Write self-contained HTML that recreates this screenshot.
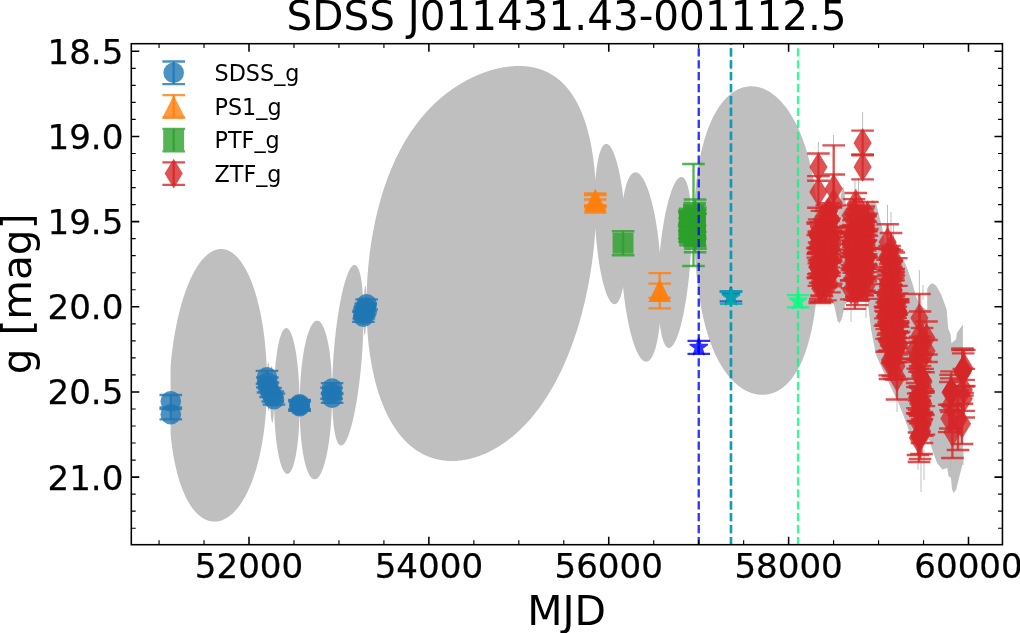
<!DOCTYPE html><html><head><meta charset="utf-8"><title>SDSS J011431.43-001112.5</title><style>html,body{margin:0;padding:0;background:#fff}</style></head><body><svg width="1020" height="633" viewBox="0 0 1020 633" style="display:block;font-family:'DejaVu Sans','Liberation Sans',sans-serif">
<rect width="1020" height="633" fill="#fff"/>
<defs><clipPath id="ax"><rect x="131.3" y="43.7" width="871.1500000000001" height="501.00000000000006"/></clipPath></defs>
<g clip-path="url(#ax)">
<path fill="#bfbfbf" d="M170.6,366.2 L171.1,360.7 L171.6,356.0 L172.1,351.7 L172.6,347.8 L173.1,344.2 L173.6,340.8 L174.1,337.6 L174.6,334.6 L175.1,331.8 L175.6,329.0 L176.1,326.5 L176.6,324.0 L177.1,321.6 L177.6,319.3 L178.1,317.1 L178.6,315.0 L179.1,312.9 L179.6,310.9 L180.1,309.0 L180.6,307.1 L181.1,305.3 L181.6,303.5 L182.1,301.8 L182.6,300.2 L183.1,298.6 L183.6,297.0 L184.1,295.5 L184.6,294.0 L185.1,292.5 L185.6,291.1 L186.1,289.8 L186.6,288.4 L187.1,287.1 L187.6,285.8 L188.1,284.6 L188.6,283.4 L189.1,282.2 L189.6,281.0 L190.1,279.9 L190.6,278.8 L191.1,277.8 L191.6,276.7 L192.1,275.7 L192.6,274.7 L193.1,273.7 L193.6,272.8 L194.1,271.9 L194.6,271.0 L195.1,270.1 L195.6,269.2 L196.1,268.4 L196.6,267.6 L197.1,266.8 L197.6,266.0 L198.1,265.3 L198.6,264.5 L199.1,263.8 L199.6,263.1 L200.1,262.4 L200.6,261.8 L201.1,261.1 L201.6,260.5 L202.1,259.9 L202.6,259.3 L203.1,258.8 L203.6,258.2 L204.1,257.7 L204.6,257.2 L205.1,256.7 L205.6,256.2 L206.1,255.7 L206.6,255.3 L207.1,254.8 L207.6,254.4 L208.1,254.0 L208.6,253.6 L209.1,253.3 L209.6,252.9 L210.1,252.6 L210.6,252.3 L211.1,252.0 L211.6,251.7 L212.1,251.4 L212.6,251.1 L213.1,250.9 L213.6,250.7 L214.1,250.4 L214.6,250.2 L215.1,250.1 L215.6,249.9 L216.1,249.7 L216.6,249.6 L217.1,249.5 L217.6,249.4 L218.1,249.3 L218.6,249.2 L219.1,249.1 L219.6,249.1 L220.1,249.0 L220.6,249.0 L221.1,249.0 L221.6,249.0 L222.1,249.0 L222.6,249.1 L223.1,249.1 L223.6,249.2 L224.1,249.3 L224.6,249.4 L225.1,249.5 L225.6,249.6 L226.1,249.8 L226.6,249.9 L227.1,250.1 L227.6,250.3 L228.1,250.5 L228.6,250.7 L229.1,251.0 L229.6,251.2 L230.1,251.5 L230.6,251.8 L231.1,252.1 L231.6,252.4 L232.1,252.8 L232.6,253.1 L233.1,253.5 L233.6,253.9 L234.1,254.3 L234.6,254.7 L235.1,255.1 L235.6,255.6 L236.1,256.1 L236.6,256.6 L237.1,257.1 L237.6,257.6 L238.1,258.2 L238.6,258.8 L239.1,259.4 L239.6,260.0 L240.1,260.6 L240.6,261.3 L241.1,262.0 L241.6,262.7 L242.1,263.4 L242.6,264.1 L243.1,264.9 L243.6,265.7 L244.1,266.5 L244.6,267.3 L245.1,268.2 L245.6,269.1 L246.1,270.0 L246.6,271.0 L247.1,271.9 L247.6,272.9 L248.1,274.0 L248.6,275.0 L249.1,276.1 L249.6,277.3 L250.1,278.4 L250.6,279.6 L251.1,280.8 L251.6,282.1 L252.1,283.4 L252.6,284.8 L253.1,286.2 L253.6,287.6 L254.1,289.1 L254.6,290.6 L255.1,292.2 L255.6,293.8 L256.1,295.5 L256.6,297.2 L257.1,299.1 L257.6,300.9 L258.1,302.9 L258.6,304.9 L259.1,307.0 L259.6,309.2 L260.1,311.5 L260.6,314.0 L261.1,316.5 L261.6,319.2 L262.1,322.0 L262.6,325.0 L263.1,328.2 L263.6,331.7 L264.1,335.4 L264.6,339.6 L265.1,344.2 L265.6,349.5 L266.1,355.9 L266.6,364.5 L267.0,378.0 L267.1,373.4 L267.6,364.8 L268.1,362.1 L268.6,362.5 L269.1,365.5 L269.6,372.1 L270.0,385.0 L270.1,380.3 L270.6,371.0 L271.1,367.3 L271.6,366.1 L272.1,366.7 L272.6,369.0 L273.1,373.4 L273.6,380.8 L274.0,393.7 L274.1,388.4 L274.6,376.2 L275.1,368.9 L275.6,363.3 L276.1,358.7 L276.6,354.8 L277.1,351.4 L277.6,348.3 L278.1,345.6 L278.6,343.2 L279.1,341.1 L279.6,339.1 L280.1,337.4 L280.6,335.9 L281.1,334.5 L281.6,333.2 L282.1,332.1 L282.6,331.2 L283.1,330.4 L283.6,329.7 L284.1,329.2 L284.6,328.7 L285.1,328.4 L285.6,328.2 L286.1,328.1 L286.6,328.1 L287.1,328.3 L287.6,328.5 L288.1,328.9 L288.6,329.3 L289.1,329.9 L289.6,330.7 L290.1,331.5 L290.6,332.4 L291.1,333.5 L291.6,334.8 L292.1,336.1 L292.6,337.6 L293.1,339.3 L293.6,341.2 L294.1,343.2 L294.6,345.4 L295.1,347.9 L295.6,350.6 L296.1,353.6 L296.6,356.9 L297.1,360.7 L297.6,365.0 L298.1,370.1 L298.6,376.2 L299.1,384.4 L299.6,401.4 L300.1,385.6 L300.6,377.8 L301.1,371.8 L301.6,366.9 L302.1,362.7 L302.6,358.9 L303.1,355.5 L303.6,352.4 L304.1,349.6 L304.6,347.0 L305.1,344.6 L305.6,342.4 L306.1,340.3 L306.6,338.4 L307.1,336.6 L307.6,334.9 L308.1,333.4 L308.6,331.9 L309.1,330.6 L309.6,329.3 L310.1,328.2 L310.6,327.1 L311.1,326.2 L311.6,325.3 L312.1,324.5 L312.6,323.8 L313.1,323.1 L313.6,322.5 L314.1,322.1 L314.6,321.6 L315.1,321.3 L315.6,321.0 L316.1,320.9 L316.6,320.7 L317.1,320.7 L317.6,320.7 L318.1,320.8 L318.6,321.0 L319.1,321.3 L319.6,321.6 L320.1,322.1 L320.6,322.6 L321.1,323.2 L321.6,323.8 L322.1,324.6 L322.6,325.5 L323.1,326.4 L323.6,327.5 L324.1,328.7 L324.6,329.9 L325.1,331.4 L325.6,332.9 L326.1,334.6 L326.6,336.4 L327.1,338.5 L327.6,340.7 L328.1,343.1 L328.6,345.8 L329.1,348.8 L329.6,352.2 L330.1,356.1 L330.6,360.6 L331.1,366.2 L331.6,373.6 L332.1,388.8 L332.6,371.1 L333.1,361.9 L333.6,354.6 L334.1,348.4 L334.6,342.9 L335.1,337.9 L335.6,333.4 L336.1,329.1 L336.6,325.1 L337.1,321.4 L337.6,317.9 L338.1,314.6 L338.6,311.4 L339.1,308.4 L339.6,305.5 L340.1,302.8 L340.6,300.2 L341.1,297.7 L341.6,295.3 L342.1,293.0 L342.6,290.9 L343.1,288.8 L343.6,286.8 L344.1,284.9 L344.6,283.1 L345.1,281.4 L345.6,279.8 L346.1,278.2 L346.6,276.7 L347.1,275.4 L347.6,274.1 L348.1,272.9 L348.6,271.7 L349.1,270.7 L349.6,269.7 L350.1,268.8 L350.6,268.0 L351.1,267.3 L351.6,266.7 L352.1,266.1 L352.6,265.7 L353.1,265.3 L353.6,265.1 L354.1,264.9 L354.6,264.9 L355.1,265.0 L355.6,265.2 L356.1,265.5 L356.6,265.9 L357.1,266.5 L357.6,267.2 L358.1,268.2 L358.6,269.3 L359.1,270.6 L359.6,272.1 L360.1,274.0 L360.6,276.2 L361.1,278.8 L361.6,281.9 L362.1,285.9 L362.6,291.0 L363.1,298.4 L363.5,311.8 L363.6,306.1 L364.1,294.3 L364.6,288.6 L365.1,286.0 L365.6,286.1 L366.1,289.8 L366.5,301.0 L366.6,295.1 L367.1,282.5 L367.6,274.7 L368.1,268.5 L368.6,263.3 L369.1,258.6 L369.6,254.4 L370.1,250.5 L370.6,246.9 L371.1,243.5 L371.6,240.3 L372.1,237.3 L372.6,234.4 L373.1,231.6 L373.6,229.0 L374.1,226.4 L374.6,223.9 L375.1,221.6 L375.6,219.3 L376.1,217.0 L376.6,214.9 L377.1,212.8 L377.6,210.7 L378.1,208.7 L378.6,206.8 L379.1,204.9 L379.6,203.1 L380.1,201.3 L380.6,199.5 L381.1,197.8 L381.6,196.1 L382.1,194.4 L382.6,192.8 L383.1,191.2 L383.6,189.6 L384.1,188.1 L384.6,186.6 L385.1,185.1 L385.6,183.7 L386.1,182.3 L386.6,180.9 L387.1,179.5 L387.6,178.1 L388.1,176.8 L388.6,175.5 L389.1,174.2 L389.6,172.9 L390.1,171.7 L390.6,170.5 L391.1,169.2 L391.6,168.1 L392.1,166.9 L392.6,165.7 L393.1,164.6 L393.6,163.4 L394.1,162.3 L394.6,161.2 L395.1,160.1 L395.6,159.1 L396.1,158.0 L396.6,157.0 L397.1,155.9 L397.6,154.9 L398.1,153.9 L398.6,152.9 L399.1,152.0 L399.6,151.0 L400.1,150.0 L400.6,149.1 L401.1,148.2 L401.6,147.2 L402.1,146.3 L402.6,145.4 L403.1,144.5 L403.6,143.7 L404.1,142.8 L404.6,141.9 L405.1,141.1 L405.6,140.2 L406.1,139.4 L406.6,138.6 L407.1,137.8 L407.6,137.0 L408.1,136.2 L408.6,135.4 L409.1,134.6 L409.6,133.8 L410.1,133.1 L410.6,132.3 L411.1,131.6 L411.6,130.8 L412.1,130.1 L412.6,129.4 L413.1,128.7 L413.6,128.0 L414.1,127.3 L414.6,126.6 L415.1,125.9 L415.6,125.2 L416.1,124.5 L416.6,123.9 L417.1,123.2 L417.6,122.5 L418.1,121.9 L418.6,121.3 L419.1,120.6 L419.6,120.0 L420.1,119.4 L420.6,118.8 L421.1,118.1 L421.6,117.5 L422.1,116.9 L422.6,116.3 L423.1,115.8 L423.6,115.2 L424.1,114.6 L424.6,114.0 L425.1,113.4 L425.6,112.9 L426.1,112.3 L426.6,111.8 L427.1,111.2 L427.6,110.7 L428.1,110.2 L428.6,109.6 L429.1,109.1 L429.6,108.6 L430.1,108.1 L430.6,107.5 L431.1,107.0 L431.6,106.5 L432.1,106.0 L432.6,105.5 L433.1,105.0 L433.6,104.6 L434.1,104.1 L434.6,103.6 L435.1,103.1 L435.6,102.6 L436.1,102.2 L436.6,101.7 L437.1,101.3 L437.6,100.8 L438.1,100.4 L438.6,99.9 L439.1,99.5 L439.6,99.0 L440.1,98.6 L440.6,98.2 L441.1,97.7 L441.6,97.3 L442.1,96.9 L442.6,96.5 L443.1,96.1 L443.6,95.7 L444.1,95.3 L444.6,94.9 L445.1,94.5 L445.6,94.1 L446.1,93.7 L446.6,93.3 L447.1,92.9 L447.6,92.5 L448.1,92.2 L448.6,91.8 L449.1,91.4 L449.6,91.0 L450.1,90.7 L450.6,90.3 L451.1,90.0 L451.6,89.6 L452.1,89.3 L452.6,88.9 L453.1,88.6 L453.6,88.2 L454.1,87.9 L454.6,87.5 L455.1,87.2 L455.6,86.9 L456.1,86.6 L456.6,86.2 L457.1,85.9 L457.6,85.6 L458.1,85.3 L458.6,85.0 L459.1,84.7 L459.6,84.4 L460.1,84.0 L460.6,83.7 L461.1,83.4 L461.6,83.2 L462.1,82.9 L462.6,82.6 L463.1,82.3 L463.6,82.0 L464.1,81.7 L464.6,81.4 L465.1,81.2 L465.6,80.9 L466.1,80.6 L466.6,80.3 L467.1,80.1 L467.6,79.8 L468.1,79.6 L468.6,79.3 L469.1,79.0 L469.6,78.8 L470.1,78.5 L470.6,78.3 L471.1,78.0 L471.6,77.8 L472.1,77.6 L472.6,77.3 L473.1,77.1 L473.6,76.9 L474.1,76.6 L474.6,76.4 L475.1,76.2 L475.6,75.9 L476.1,75.7 L476.6,75.5 L477.1,75.3 L477.6,75.1 L478.1,74.9 L478.6,74.7 L479.1,74.5 L479.6,74.2 L480.1,74.0 L480.6,73.8 L481.1,73.7 L481.6,73.5 L482.1,73.3 L482.6,73.1 L483.1,72.9 L483.6,72.7 L484.1,72.5 L484.6,72.3 L485.1,72.2 L485.6,72.0 L486.1,71.8 L486.6,71.7 L487.1,71.5 L487.6,71.3 L488.1,71.2 L488.6,71.0 L489.1,70.8 L489.6,70.7 L490.1,70.5 L490.6,70.4 L491.1,70.2 L491.6,70.1 L492.1,69.9 L492.6,69.8 L493.1,69.7 L493.6,69.5 L494.1,69.4 L494.6,69.3 L495.1,69.1 L495.6,69.0 L496.1,68.9 L496.6,68.8 L497.1,68.6 L497.6,68.5 L498.1,68.4 L498.6,68.3 L499.1,68.2 L499.6,68.1 L500.1,68.0 L500.6,67.9 L501.1,67.8 L501.6,67.7 L502.1,67.6 L502.6,67.5 L503.1,67.4 L503.6,67.3 L504.1,67.2 L504.6,67.2 L505.1,67.1 L505.6,67.0 L506.1,66.9 L506.6,66.9 L507.1,66.8 L507.6,66.7 L508.1,66.7 L508.6,66.6 L509.1,66.5 L509.6,66.5 L510.1,66.4 L510.6,66.4 L511.1,66.3 L511.6,66.3 L512.1,66.3 L512.6,66.2 L513.1,66.2 L513.6,66.2 L514.1,66.1 L514.6,66.1 L515.1,66.1 L515.6,66.1 L516.1,66.0 L516.6,66.0 L517.1,66.0 L517.6,66.0 L518.1,66.0 L518.6,66.0 L519.1,66.0 L519.6,66.0 L520.1,66.0 L520.6,66.0 L521.1,66.0 L521.6,66.0 L522.1,66.1 L522.6,66.1 L523.1,66.1 L523.6,66.1 L524.1,66.2 L524.6,66.2 L525.1,66.3 L525.6,66.3 L526.1,66.3 L526.6,66.4 L527.1,66.5 L527.6,66.5 L528.1,66.6 L528.6,66.6 L529.1,66.7 L529.6,66.8 L530.1,66.9 L530.6,66.9 L531.1,67.0 L531.6,67.1 L532.1,67.2 L532.6,67.3 L533.1,67.4 L533.6,67.5 L534.1,67.6 L534.6,67.7 L535.1,67.8 L535.6,68.0 L536.1,68.1 L536.6,68.2 L537.1,68.4 L537.6,68.5 L538.1,68.6 L538.6,68.8 L539.1,68.9 L539.6,69.1 L540.1,69.3 L540.6,69.4 L541.1,69.6 L541.6,69.8 L542.1,70.0 L542.6,70.1 L543.1,70.3 L543.6,70.5 L544.1,70.7 L544.6,70.9 L545.1,71.2 L545.6,71.4 L546.1,71.6 L546.6,71.8 L547.1,72.1 L547.6,72.3 L548.1,72.6 L548.6,72.8 L549.1,73.1 L549.6,73.4 L550.1,73.6 L550.6,73.9 L551.1,74.2 L551.6,74.5 L552.1,74.8 L552.6,75.1 L553.1,75.4 L553.6,75.7 L554.1,76.1 L554.6,76.4 L555.1,76.8 L555.6,77.1 L556.1,77.5 L556.6,77.8 L557.1,78.2 L557.6,78.6 L558.1,79.0 L558.6,79.4 L559.1,79.8 L559.6,80.2 L560.1,80.7 L560.6,81.1 L561.1,81.6 L561.6,82.0 L562.1,82.5 L562.6,83.0 L563.1,83.5 L563.6,84.0 L564.1,84.5 L564.6,85.0 L565.1,85.5 L565.6,86.1 L566.1,86.6 L566.6,87.2 L567.1,87.8 L567.6,88.4 L568.1,89.0 L568.6,89.6 L569.1,90.3 L569.6,90.9 L570.1,91.6 L570.6,92.3 L571.1,93.0 L571.6,93.7 L572.1,94.4 L572.6,95.2 L573.1,95.9 L573.6,96.7 L574.1,97.5 L574.6,98.3 L575.1,99.2 L575.6,100.1 L576.1,100.9 L576.6,101.9 L577.1,102.8 L577.6,103.7 L578.1,104.7 L578.6,105.7 L579.1,106.8 L579.6,107.8 L580.1,108.9 L580.6,110.0 L581.1,111.2 L581.6,112.4 L582.1,113.6 L582.6,114.9 L583.1,116.2 L583.6,117.5 L584.1,118.9 L584.6,120.3 L585.1,121.8 L585.6,123.4 L586.1,125.0 L586.6,126.6 L587.1,128.3 L587.6,130.1 L588.1,132.0 L588.6,133.9 L589.1,136.0 L589.6,138.1 L590.1,140.4 L590.6,142.8 L591.1,145.3 L591.6,148.0 L592.1,150.9 L592.6,154.0 L593.1,157.4 L593.6,161.2 L594.1,165.4 L594.6,170.3 L595.1,176.1 L595.4,180.7 L595.6,178.1 L596.1,172.7 L596.6,168.4 L597.1,164.9 L597.6,161.9 L598.1,159.3 L598.6,157.0 L599.1,155.0 L599.6,153.3 L600.1,151.7 L600.6,150.4 L601.1,149.1 L601.6,148.1 L602.1,147.2 L602.6,146.4 L603.1,145.7 L603.6,145.2 L604.1,144.7 L604.6,144.4 L605.1,144.1 L605.6,144.0 L606.1,143.9 L606.6,143.9 L607.1,144.0 L607.6,144.2 L608.1,144.5 L608.6,144.9 L609.1,145.3 L609.6,145.8 L610.1,146.4 L610.6,147.1 L611.1,147.8 L611.6,148.7 L612.1,149.6 L612.6,150.5 L613.1,151.6 L613.6,152.8 L614.1,154.0 L614.6,155.3 L615.1,156.7 L615.6,158.2 L616.1,159.8 L616.6,161.5 L617.1,163.3 L617.6,165.2 L618.1,167.2 L618.6,169.3 L619.1,171.6 L619.6,174.0 L620.1,176.6 L620.6,179.3 L621.1,182.2 L621.6,185.3 L622.1,188.6 L622.6,192.2 L623.1,196.2 L623.3,198.3 L623.6,196.5 L624.1,193.7 L624.6,191.3 L625.1,189.1 L625.6,187.1 L626.1,185.3 L626.6,183.7 L627.1,182.3 L627.6,180.9 L628.1,179.7 L628.6,178.7 L629.1,177.7 L629.6,176.8 L630.1,176.0 L630.6,175.3 L631.1,174.7 L631.6,174.1 L632.1,173.7 L632.6,173.3 L633.1,173.0 L633.6,172.7 L634.1,172.5 L634.6,172.4 L635.1,172.3 L635.6,172.3 L636.1,172.4 L636.6,172.5 L637.1,172.6 L637.6,172.8 L638.1,173.1 L638.6,173.4 L639.1,173.8 L639.6,174.3 L640.1,174.7 L640.6,175.3 L641.1,175.9 L641.6,176.5 L642.1,177.2 L642.6,178.0 L643.1,178.8 L643.6,179.6 L644.1,180.5 L644.6,181.5 L645.1,182.5 L645.6,183.6 L646.1,184.7 L646.6,185.9 L647.1,187.2 L647.6,188.5 L648.1,189.8 L648.6,191.3 L649.1,192.8 L649.6,194.3 L650.1,196.0 L650.6,197.7 L651.1,199.5 L651.6,201.4 L652.1,203.3 L652.6,205.4 L653.1,207.5 L653.6,209.7 L654.1,212.1 L654.6,214.6 L655.1,217.2 L655.6,219.9 L656.1,222.8 L656.6,225.9 L657.1,229.2 L657.6,232.7 L658.1,236.5 L658.6,240.6 L659.1,245.2 L659.6,250.3 L659.7,253.6 L660.1,249.4 L660.6,244.6 L661.1,240.4 L661.6,236.4 L662.1,232.8 L662.6,229.4 L663.1,226.2 L663.6,223.2 L664.1,220.3 L664.6,217.6 L665.1,215.0 L665.6,212.6 L666.1,210.3 L666.6,208.0 L667.1,205.9 L667.6,203.9 L668.1,201.9 L668.6,200.1 L669.1,198.3 L669.6,196.6 L670.1,195.0 L670.6,193.4 L671.1,192.0 L671.6,190.6 L672.1,189.2 L672.6,188.0 L673.1,186.8 L673.6,185.7 L674.1,184.6 L674.6,183.6 L675.1,182.7 L675.6,181.8 L676.1,181.0 L676.6,180.3 L677.1,179.6 L677.6,179.0 L678.1,178.5 L678.6,178.1 L679.1,177.7 L679.6,177.4 L680.1,177.1 L680.6,177.0 L681.1,176.9 L681.6,176.9 L682.1,177.0 L682.6,177.2 L683.1,177.5 L683.6,177.8 L684.1,178.3 L684.6,178.9 L685.1,179.7 L685.6,180.5 L686.1,181.5 L686.6,182.7 L687.1,184.1 L687.6,185.7 L688.1,187.5 L688.6,189.6 L689.1,192.1 L689.6,195.1 L690.1,198.7 L690.6,203.3 L691.1,209.8 L691.5,219.6 L691.6,215.3 L692.1,205.9 L692.6,201.9 L693.1,201.0 L693.6,203.2 L694.1,210.9 L694.2,214.1 L694.6,202.7 L695.1,194.5 L695.6,188.4 L696.1,183.3 L696.6,178.9 L697.1,175.0 L697.6,171.4 L698.1,168.1 L698.6,165.1 L699.1,162.2 L699.6,159.6 L700.1,157.1 L700.6,154.7 L701.1,152.4 L701.6,150.2 L702.1,148.2 L702.6,146.2 L703.1,144.3 L703.6,142.5 L704.1,140.7 L704.6,139.0 L705.1,137.4 L705.6,135.8 L706.1,134.3 L706.6,132.8 L707.1,131.4 L707.6,130.0 L708.1,128.6 L708.6,127.3 L709.1,126.1 L709.6,124.8 L710.1,123.6 L710.6,122.5 L711.1,121.3 L711.6,120.2 L712.1,119.2 L712.6,118.1 L713.1,117.1 L713.6,116.1 L714.1,115.2 L714.6,114.2 L715.1,113.3 L715.6,112.4 L716.1,111.6 L716.6,110.7 L717.1,109.9 L717.6,109.1 L718.1,108.3 L718.6,107.5 L719.1,106.8 L719.6,106.1 L720.1,105.4 L720.6,104.7 L721.1,104.0 L721.6,103.3 L722.1,102.7 L722.6,102.1 L723.1,101.5 L723.6,100.9 L724.1,100.3 L724.6,99.7 L725.1,99.2 L725.6,98.7 L726.1,98.1 L726.6,97.6 L727.1,97.1 L727.6,96.7 L728.1,96.2 L728.6,95.7 L729.1,95.3 L729.6,94.9 L730.1,94.5 L730.6,94.1 L731.1,93.7 L731.6,93.3 L732.1,92.9 L732.6,92.6 L733.1,92.2 L733.6,91.9 L734.1,91.6 L734.6,91.2 L735.1,90.9 L735.6,90.6 L736.1,90.4 L736.6,90.1 L737.1,89.8 L737.6,89.6 L738.1,89.3 L738.6,89.1 L739.1,88.9 L739.6,88.7 L740.1,88.5 L740.6,88.3 L741.1,88.1 L741.6,87.9 L742.1,87.8 L742.6,87.6 L743.1,87.4 L743.6,87.3 L744.1,87.2 L744.6,87.1 L745.1,87.0 L745.6,86.9 L746.1,86.8 L746.6,86.7 L747.1,86.6 L747.6,86.5 L748.1,86.5 L748.6,86.4 L749.1,86.4 L749.6,86.3 L750.1,86.3 L750.6,86.3 L751.1,86.3 L751.6,86.3 L752.1,86.3 L752.6,86.3 L753.1,86.4 L753.6,86.4 L754.1,86.4 L754.6,86.5 L755.1,86.5 L755.6,86.6 L756.1,86.7 L756.6,86.8 L757.1,86.9 L757.6,87.0 L758.1,87.1 L758.6,87.2 L759.1,87.3 L759.6,87.4 L760.1,87.6 L760.6,87.7 L761.1,87.9 L761.6,88.1 L762.1,88.2 L762.6,88.4 L763.1,88.6 L763.6,88.8 L764.1,89.0 L764.6,89.2 L765.1,89.5 L765.6,89.7 L766.1,90.0 L766.6,90.2 L767.1,90.5 L767.6,90.7 L768.1,91.0 L768.6,91.3 L769.1,91.6 L769.6,91.9 L770.1,92.2 L770.6,92.5 L771.1,92.9 L771.6,93.2 L772.1,93.6 L772.6,93.9 L773.1,94.3 L773.6,94.7 L774.1,95.1 L774.6,95.5 L775.1,95.9 L775.6,96.3 L776.1,96.7 L776.6,97.2 L777.1,97.6 L777.6,98.1 L778.1,98.6 L778.6,99.0 L779.1,99.5 L779.6,100.0 L780.1,100.5 L780.6,101.1 L781.1,101.6 L781.6,102.2 L782.1,102.7 L782.6,103.3 L783.1,103.9 L783.6,104.5 L784.1,105.1 L784.6,105.7 L785.1,106.3 L785.6,107.0 L786.1,107.6 L786.6,108.3 L787.1,109.0 L787.6,109.7 L788.1,110.4 L788.6,111.1 L789.1,111.9 L789.6,112.6 L790.1,113.4 L790.6,114.2 L791.1,115.0 L791.6,115.8 L792.1,116.7 L792.6,117.5 L793.1,118.4 L793.6,119.3 L794.1,120.2 L794.6,121.1 L795.1,122.1 L795.6,123.0 L796.1,124.0 L796.6,125.0 L797.1,126.1 L797.6,127.1 L798.1,128.2 L798.6,129.3 L799.1,130.4 L799.6,131.6 L800.1,132.7 L800.6,133.9 L801.1,135.2 L801.6,136.4 L802.1,137.7 L802.6,139.0 L803.1,140.4 L803.6,141.8 L804.1,143.2 L804.6,144.6 L805.1,146.1 L805.6,147.6 L806.1,149.2 L806.6,150.8 L807.1,152.5 L807.6,154.2 L808.1,156.0 L808.6,157.8 L809.1,159.7 L809.6,161.7 L810.1,163.7 L810.6,165.8 L811.1,167.9 L811.6,170.2 L812.1,172.6 L812.6,175.0 L813.1,177.6 L813.6,180.3 L814.1,183.2 L814.6,186.2 L815.1,189.4 L815.6,192.9 L816.1,196.7 L816.6,200.8 L817.1,205.4 L817.6,210.7 L818.1,217.0 L818.6,225.3 L819.0,236.8 L825.0,228.0 L836.0,224.0 L839.5,205.0 L841.5,192.0 L843.0,185.7 L844.5,192.0 L846.5,210.0 L848.0,218.0 L860.0,212.0 L868.0,205.0 L873.0,200.0 L876.4,204.6 L882.0,227.0 L885.0,242.5 L890.0,247.0 L895.0,250.0 L899.9,254.0 L906.0,265.0 L912.2,282.7 L916.3,297.0 L920.0,305.0 L927.2,310.0 L927.2,288.7 L929.5,285.0 L932.4,283.2 L936.0,285.5 L941.1,294.2 L946.6,309.3 L948.2,328.2 L950.6,334.6 L951.4,343.3 L956.1,339.3 L956.9,333.0 L962.5,325.0 L962.9,325.0 L962.9,463.0 L959.0,478.0 L956.0,490.0 L953.5,493.0 L952.0,489.0 L951.0,478.0 L948.5,476.0 L947.2,468.0 L942.4,469.6 L937.0,463.0 L933.0,452.0 L929.0,439.5 L920.0,445.0 L912.0,440.0 L908.0,428.0 L904.0,417.0 L898.4,402.8 L885.0,375.0 L876.0,355.0 L871.0,329.0 L866.0,288.0 L864.0,285.0 L855.0,292.0 L845.0,305.0 L842.0,318.0 L839.5,323.4 L837.0,318.0 L834.0,305.0 L825.0,290.0 L819.0,255.2 L818.6,269.2 L818.1,279.0 L817.6,286.3 L817.1,292.3 L816.6,297.4 L816.1,302.0 L815.6,306.1 L815.1,309.8 L814.6,313.3 L814.1,316.5 L813.6,319.5 L813.1,322.3 L812.6,325.0 L812.1,327.5 L811.6,329.9 L811.1,332.2 L810.6,334.3 L810.1,336.4 L809.6,338.4 L809.1,340.3 L808.6,342.1 L808.1,343.8 L807.6,345.5 L807.1,347.2 L806.6,348.7 L806.1,350.2 L805.6,351.7 L805.1,353.1 L804.6,354.5 L804.1,355.8 L803.6,357.1 L803.1,358.3 L802.6,359.5 L802.1,360.7 L801.6,361.8 L801.1,362.9 L800.6,364.0 L800.1,365.0 L799.6,366.0 L799.1,367.0 L798.6,367.9 L798.1,368.8 L797.6,369.7 L797.1,370.6 L796.6,371.4 L796.1,372.3 L795.6,373.1 L795.1,373.8 L794.6,374.6 L794.1,375.3 L793.6,376.1 L793.1,376.8 L792.6,377.4 L792.1,378.1 L791.6,378.7 L791.1,379.4 L790.6,380.0 L790.1,380.6 L789.6,381.1 L789.1,381.7 L788.6,382.2 L788.1,382.8 L787.6,383.3 L787.1,383.8 L786.6,384.3 L786.1,384.8 L785.6,385.2 L785.1,385.7 L784.6,386.1 L784.1,386.5 L783.6,386.9 L783.1,387.3 L782.6,387.7 L782.1,388.1 L781.6,388.4 L781.1,388.8 L780.6,389.1 L780.1,389.4 L779.6,389.7 L779.1,390.1 L778.6,390.3 L778.1,390.6 L777.6,390.9 L777.1,391.2 L776.6,391.4 L776.1,391.7 L775.6,391.9 L775.1,392.1 L774.6,392.3 L774.1,392.5 L773.6,392.7 L773.1,392.9 L772.6,393.1 L772.1,393.3 L771.6,393.4 L771.1,393.6 L770.6,393.7 L770.1,393.8 L769.6,394.0 L769.1,394.1 L768.6,394.2 L768.1,394.3 L767.6,394.4 L767.1,394.4 L766.6,394.5 L766.1,394.6 L765.6,394.6 L765.1,394.7 L764.6,394.7 L764.1,394.8 L763.6,394.8 L763.1,394.8 L762.6,394.8 L762.1,394.8 L761.6,394.8 L761.1,394.8 L760.6,394.8 L760.1,394.7 L759.6,394.7 L759.1,394.7 L758.6,394.6 L758.1,394.5 L757.6,394.5 L757.1,394.4 L756.6,394.3 L756.1,394.2 L755.6,394.1 L755.1,394.0 L754.6,393.9 L754.1,393.8 L753.6,393.6 L753.1,393.5 L752.6,393.4 L752.1,393.2 L751.6,393.0 L751.1,392.9 L750.6,392.7 L750.1,392.5 L749.6,392.3 L749.1,392.1 L748.6,391.9 L748.1,391.7 L747.6,391.5 L747.1,391.2 L746.6,391.0 L746.1,390.7 L745.6,390.5 L745.1,390.2 L744.6,389.9 L744.1,389.7 L743.6,389.4 L743.1,389.1 L742.6,388.8 L742.1,388.4 L741.6,388.1 L741.1,387.8 L740.6,387.4 L740.1,387.1 L739.6,386.7 L739.1,386.3 L738.6,386.0 L738.1,385.6 L737.6,385.2 L737.1,384.8 L736.6,384.3 L736.1,383.9 L735.6,383.5 L735.1,383.0 L734.6,382.5 L734.1,382.1 L733.6,381.6 L733.1,381.1 L732.6,380.6 L732.1,380.1 L731.6,379.5 L731.1,379.0 L730.6,378.5 L730.1,377.9 L729.6,377.3 L729.1,376.7 L728.6,376.1 L728.1,375.5 L727.6,374.9 L727.1,374.3 L726.6,373.6 L726.1,372.9 L725.6,372.3 L725.1,371.6 L724.6,370.8 L724.1,370.1 L723.6,369.4 L723.1,368.6 L722.6,367.8 L722.1,367.1 L721.6,366.2 L721.1,365.4 L720.6,364.6 L720.1,363.7 L719.6,362.8 L719.1,361.9 L718.6,361.0 L718.1,360.1 L717.6,359.1 L717.1,358.1 L716.6,357.1 L716.1,356.1 L715.6,355.0 L715.1,353.9 L714.6,352.8 L714.1,351.7 L713.6,350.5 L713.1,349.4 L712.6,348.1 L712.1,346.9 L711.6,345.6 L711.1,344.3 L710.6,342.9 L710.1,341.6 L709.6,340.1 L709.1,338.7 L708.6,337.1 L708.1,335.6 L707.6,334.0 L707.1,332.3 L706.6,330.6 L706.1,328.9 L705.6,327.1 L705.1,325.2 L704.6,323.3 L704.1,321.2 L703.6,319.2 L703.1,317.0 L702.6,314.7 L702.1,312.4 L701.6,309.9 L701.1,307.3 L700.6,304.6 L700.1,301.8 L699.6,298.8 L699.1,295.6 L698.6,292.2 L698.1,288.5 L697.6,284.6 L697.1,280.2 L696.6,275.5 L696.1,270.1 L695.6,263.9 L695.1,256.4 L694.6,246.4 L694.2,232.2 L694.1,233.9 L693.6,243.3 L693.1,247.3 L692.6,248.2 L692.1,246.0 L691.6,238.3 L691.5,235.2 L691.1,247.7 L690.6,257.0 L690.1,264.1 L689.6,270.1 L689.1,275.4 L688.6,280.2 L688.1,284.6 L687.6,288.6 L687.1,292.4 L686.6,295.9 L686.1,299.2 L685.6,302.3 L685.1,305.3 L684.6,308.1 L684.1,310.8 L683.6,313.3 L683.1,315.7 L682.6,318.0 L682.1,320.2 L681.6,322.3 L681.1,324.3 L680.6,326.2 L680.1,328.0 L679.6,329.8 L679.1,331.4 L678.6,332.9 L678.1,334.4 L677.6,335.8 L677.1,337.1 L676.6,338.4 L676.1,339.5 L675.6,340.6 L675.1,341.7 L674.6,342.6 L674.1,343.5 L673.6,344.3 L673.1,345.0 L672.6,345.6 L672.1,346.2 L671.6,346.7 L671.1,347.1 L670.6,347.4 L670.1,347.7 L669.6,347.8 L669.1,347.9 L668.6,347.9 L668.1,347.8 L667.6,347.6 L667.1,347.3 L666.6,346.9 L666.1,346.4 L665.6,345.7 L665.1,345.0 L664.6,344.1 L664.1,343.0 L663.6,341.8 L663.1,340.4 L662.6,338.8 L662.1,337.0 L661.6,334.9 L661.1,332.5 L660.6,329.7 L660.1,326.4 L659.7,323.3 L659.6,325.1 L659.1,329.4 L658.6,333.0 L658.1,336.2 L657.6,339.0 L657.1,341.5 L656.6,343.8 L656.1,345.8 L655.6,347.7 L655.1,349.4 L654.6,350.9 L654.1,352.3 L653.6,353.6 L653.1,354.8 L652.6,355.8 L652.1,356.8 L651.6,357.6 L651.1,358.4 L650.6,359.0 L650.1,359.6 L649.6,360.2 L649.1,360.6 L648.6,360.9 L648.1,361.2 L647.6,361.5 L647.1,361.6 L646.6,361.7 L646.1,361.7 L645.6,361.7 L645.1,361.6 L644.6,361.4 L644.1,361.2 L643.6,360.9 L643.1,360.6 L642.6,360.2 L642.1,359.7 L641.6,359.2 L641.1,358.7 L640.6,358.1 L640.1,357.4 L639.6,356.6 L639.1,355.8 L638.6,355.0 L638.1,354.1 L637.6,353.1 L637.1,352.1 L636.6,351.0 L636.1,349.9 L635.6,348.6 L635.1,347.4 L634.6,346.0 L634.1,344.6 L633.6,343.2 L633.1,341.6 L632.6,340.0 L632.1,338.3 L631.6,336.5 L631.1,334.7 L630.6,332.7 L630.1,330.7 L629.6,328.6 L629.1,326.4 L628.6,324.0 L628.1,321.6 L627.6,319.0 L627.1,316.3 L626.6,313.5 L626.1,310.5 L625.6,307.3 L625.1,303.9 L624.6,300.3 L624.1,296.4 L623.6,292.1 L623.3,289.4 L623.1,286.6 L622.6,289.2 L622.1,291.4 L621.6,293.3 L621.1,295.1 L620.6,296.6 L620.1,297.9 L619.6,299.1 L619.1,300.1 L618.6,301.0 L618.1,301.8 L617.6,302.4 L617.1,303.0 L616.6,303.4 L616.1,303.8 L615.6,304.0 L615.1,304.1 L614.6,304.2 L614.1,304.2 L613.6,304.1 L613.1,303.9 L612.6,303.6 L612.1,303.2 L611.6,302.8 L611.1,302.3 L610.6,301.7 L610.1,301.0 L609.6,300.2 L609.1,299.4 L608.6,298.5 L608.1,297.5 L607.6,296.4 L607.1,295.3 L606.6,294.0 L606.1,292.7 L605.6,291.3 L605.1,289.8 L604.6,288.2 L604.1,286.6 L603.6,284.8 L603.1,282.9 L602.6,280.9 L602.1,278.7 L601.6,276.5 L601.1,274.1 L600.6,271.6 L600.1,268.9 L599.6,266.0 L599.1,262.9 L598.6,259.6 L598.1,256.0 L597.6,252.1 L597.1,247.8 L596.6,243.0 L596.1,237.5 L595.6,230.9 L595.4,227.8 L595.1,232.8 L594.6,239.2 L594.1,244.7 L593.6,249.6 L593.1,254.0 L592.6,258.0 L592.1,261.8 L591.6,265.4 L591.1,268.7 L590.6,271.9 L590.1,275.0 L589.6,277.9 L589.1,280.7 L588.6,283.5 L588.1,286.1 L587.6,288.6 L587.1,291.1 L586.6,293.5 L586.1,295.8 L585.6,298.1 L585.1,300.3 L584.6,302.4 L584.1,304.5 L583.6,306.6 L583.1,308.6 L582.6,310.6 L582.1,312.5 L581.6,314.4 L581.1,316.2 L580.6,318.0 L580.1,319.8 L579.6,321.6 L579.1,323.3 L578.6,325.0 L578.1,326.6 L577.6,328.3 L577.1,329.9 L576.6,331.4 L576.1,333.0 L575.6,334.5 L575.1,336.0 L574.6,337.5 L574.1,339.0 L573.6,340.4 L573.1,341.8 L572.6,343.2 L572.1,344.6 L571.6,346.0 L571.1,347.3 L570.6,348.6 L570.1,350.0 L569.6,351.2 L569.1,352.5 L568.6,353.8 L568.1,355.0 L567.6,356.3 L567.1,357.5 L566.6,358.7 L566.1,359.8 L565.6,361.0 L565.1,362.2 L564.6,363.3 L564.1,364.4 L563.6,365.5 L563.1,366.7 L562.6,367.7 L562.1,368.8 L561.6,369.9 L561.1,370.9 L560.6,372.0 L560.1,373.0 L559.6,374.0 L559.1,375.0 L558.6,376.0 L558.1,377.0 L557.6,378.0 L557.1,379.0 L556.6,379.9 L556.1,380.9 L555.6,381.8 L555.1,382.7 L554.6,383.6 L554.1,384.6 L553.6,385.5 L553.1,386.3 L552.6,387.2 L552.1,388.1 L551.6,389.0 L551.1,389.8 L550.6,390.7 L550.1,391.5 L549.6,392.3 L549.1,393.2 L548.6,394.0 L548.1,394.8 L547.6,395.6 L547.1,396.4 L546.6,397.1 L546.1,397.9 L545.6,398.7 L545.1,399.4 L544.6,400.2 L544.1,400.9 L543.6,401.7 L543.1,402.4 L542.6,403.1 L542.1,403.9 L541.6,404.6 L541.1,405.3 L540.6,406.0 L540.1,406.7 L539.6,407.4 L539.1,408.0 L538.6,408.7 L538.1,409.4 L537.6,410.0 L537.1,410.7 L536.6,411.3 L536.1,412.0 L535.6,412.6 L535.1,413.3 L534.6,413.9 L534.1,414.5 L533.6,415.1 L533.1,415.7 L532.6,416.3 L532.1,416.9 L531.6,417.5 L531.1,418.1 L530.6,418.7 L530.1,419.3 L529.6,419.8 L529.1,420.4 L528.6,421.0 L528.1,421.5 L527.6,422.1 L527.1,422.6 L526.6,423.2 L526.1,423.7 L525.6,424.2 L525.1,424.8 L524.6,425.3 L524.1,425.8 L523.6,426.3 L523.1,426.8 L522.6,427.3 L522.1,427.8 L521.6,428.3 L521.1,428.8 L520.6,429.3 L520.1,429.8 L519.6,430.2 L519.1,430.7 L518.6,431.2 L518.1,431.6 L517.6,432.1 L517.1,432.5 L516.6,433.0 L516.1,433.4 L515.6,433.9 L515.1,434.3 L514.6,434.8 L514.1,435.2 L513.6,435.6 L513.1,436.0 L512.6,436.4 L512.1,436.9 L511.6,437.3 L511.1,437.7 L510.6,438.1 L510.1,438.5 L509.6,438.9 L509.1,439.2 L508.6,439.6 L508.1,440.0 L507.6,440.4 L507.1,440.8 L506.6,441.1 L506.1,441.5 L505.6,441.9 L505.1,442.2 L504.6,442.6 L504.1,442.9 L503.6,443.3 L503.1,443.6 L502.6,443.9 L502.1,444.3 L501.6,444.6 L501.1,444.9 L500.6,445.3 L500.1,445.6 L499.6,445.9 L499.1,446.2 L498.6,446.5 L498.1,446.8 L497.6,447.1 L497.1,447.4 L496.6,447.7 L496.1,448.0 L495.6,448.3 L495.1,448.6 L494.6,448.9 L494.1,449.2 L493.6,449.5 L493.1,449.7 L492.6,450.0 L492.1,450.3 L491.6,450.5 L491.1,450.8 L490.6,451.0 L490.1,451.3 L489.6,451.6 L489.1,451.8 L488.6,452.0 L488.1,452.3 L487.6,452.5 L487.1,452.7 L486.6,453.0 L486.1,453.2 L485.6,453.4 L485.1,453.7 L484.6,453.9 L484.1,454.1 L483.6,454.3 L483.1,454.5 L482.6,454.7 L482.1,454.9 L481.6,455.1 L481.1,455.3 L480.6,455.5 L480.1,455.7 L479.6,455.9 L479.1,456.0 L478.6,456.2 L478.1,456.4 L477.6,456.6 L477.1,456.7 L476.6,456.9 L476.1,457.1 L475.6,457.2 L475.1,457.4 L474.6,457.5 L474.1,457.7 L473.6,457.8 L473.1,458.0 L472.6,458.1 L472.1,458.2 L471.6,458.4 L471.1,458.5 L470.6,458.6 L470.1,458.8 L469.6,458.9 L469.1,459.0 L468.6,459.1 L468.1,459.2 L467.6,459.3 L467.1,459.4 L466.6,459.5 L466.1,459.6 L465.6,459.7 L465.1,459.8 L464.6,459.9 L464.1,460.0 L463.6,460.1 L463.1,460.1 L462.6,460.2 L462.1,460.3 L461.6,460.4 L461.1,460.4 L460.6,460.5 L460.1,460.5 L459.6,460.6 L459.1,460.6 L458.6,460.7 L458.1,460.7 L457.6,460.8 L457.1,460.8 L456.6,460.9 L456.1,460.9 L455.6,460.9 L455.1,460.9 L454.6,461.0 L454.1,461.0 L453.6,461.0 L453.1,461.0 L452.6,461.0 L452.1,461.0 L451.6,461.0 L451.1,461.0 L450.6,461.0 L450.1,461.0 L449.6,461.0 L449.1,460.9 L448.6,460.9 L448.1,460.9 L447.6,460.9 L447.1,460.8 L446.6,460.8 L446.1,460.7 L445.6,460.7 L445.1,460.6 L444.6,460.6 L444.1,460.5 L443.6,460.5 L443.1,460.4 L442.6,460.3 L442.1,460.3 L441.6,460.2 L441.1,460.1 L440.6,460.0 L440.1,459.9 L439.6,459.8 L439.1,459.7 L438.6,459.6 L438.1,459.5 L437.6,459.4 L437.1,459.3 L436.6,459.2 L436.1,459.1 L435.6,458.9 L435.1,458.8 L434.6,458.7 L434.1,458.5 L433.6,458.4 L433.1,458.2 L432.6,458.1 L432.1,457.9 L431.6,457.7 L431.1,457.6 L430.6,457.4 L430.1,457.2 L429.6,457.0 L429.1,456.8 L428.6,456.7 L428.1,456.5 L427.6,456.3 L427.1,456.0 L426.6,455.8 L426.1,455.6 L425.6,455.4 L425.1,455.2 L424.6,454.9 L424.1,454.7 L423.6,454.4 L423.1,454.2 L422.6,453.9 L422.1,453.7 L421.6,453.4 L421.1,453.1 L420.6,452.8 L420.1,452.5 L419.6,452.3 L419.1,452.0 L418.6,451.6 L418.1,451.3 L417.6,451.0 L417.1,450.7 L416.6,450.4 L416.1,450.0 L415.6,449.7 L415.1,449.3 L414.6,449.0 L414.1,448.6 L413.6,448.2 L413.1,447.9 L412.6,447.5 L412.1,447.1 L411.6,446.7 L411.1,446.3 L410.6,445.9 L410.1,445.4 L409.6,445.0 L409.1,444.6 L408.6,444.1 L408.1,443.7 L407.6,443.2 L407.1,442.7 L406.6,442.2 L406.1,441.7 L405.6,441.2 L405.1,440.7 L404.6,440.2 L404.1,439.7 L403.6,439.1 L403.1,438.6 L402.6,438.0 L402.1,437.5 L401.6,436.9 L401.1,436.3 L400.6,435.7 L400.1,435.1 L399.6,434.5 L399.1,433.8 L398.6,433.2 L398.1,432.5 L397.6,431.9 L397.1,431.2 L396.6,430.5 L396.1,429.8 L395.6,429.1 L395.1,428.3 L394.6,427.6 L394.1,426.8 L393.6,426.0 L393.1,425.3 L392.6,424.4 L392.1,423.6 L391.6,422.8 L391.1,421.9 L390.6,421.1 L390.1,420.2 L389.6,419.3 L389.1,418.3 L388.6,417.4 L388.1,416.4 L387.6,415.4 L387.1,414.4 L386.6,413.4 L386.1,412.3 L385.6,411.2 L385.1,410.1 L384.6,409.0 L384.1,407.9 L383.6,406.7 L383.1,405.5 L382.6,404.2 L382.1,403.0 L381.6,401.7 L381.1,400.3 L380.6,399.0 L380.1,397.5 L379.6,396.1 L379.1,394.6 L378.6,393.1 L378.1,391.5 L377.6,389.9 L377.1,388.2 L376.6,386.5 L376.1,384.7 L375.6,382.8 L375.1,380.9 L374.6,378.9 L374.1,376.8 L373.6,374.6 L373.1,372.3 L372.6,370.0 L372.1,367.5 L371.6,364.8 L371.1,362.0 L370.6,359.0 L370.1,355.8 L369.6,352.4 L369.1,348.6 L368.6,344.4 L368.1,339.6 L367.6,333.9 L367.1,326.6 L366.6,314.6 L366.5,309.0 L366.1,323.3 L365.6,330.6 L365.1,334.3 L364.6,335.4 L364.1,333.3 L363.6,325.1 L363.5,320.2 L363.1,336.0 L362.6,346.2 L362.1,353.9 L361.6,360.3 L361.1,366.0 L360.6,371.2 L360.1,375.9 L359.6,380.2 L359.1,384.3 L358.6,388.1 L358.1,391.7 L357.6,395.1 L357.1,398.3 L356.6,401.4 L356.1,404.3 L355.6,407.1 L355.1,409.7 L354.6,412.3 L354.1,414.7 L353.6,417.0 L353.1,419.2 L352.6,421.3 L352.1,423.3 L351.6,425.2 L351.1,427.1 L350.6,428.8 L350.1,430.5 L349.6,432.0 L349.1,433.5 L348.6,434.9 L348.1,436.2 L347.6,437.4 L347.1,438.6 L346.6,439.7 L346.1,440.6 L345.6,441.5 L345.1,442.4 L344.6,443.1 L344.1,443.7 L343.6,444.3 L343.1,444.7 L342.6,445.1 L342.1,445.3 L341.6,445.5 L341.1,445.6 L340.6,445.5 L340.1,445.3 L339.6,445.0 L339.1,444.6 L338.6,444.0 L338.1,443.3 L337.6,442.4 L337.1,441.3 L336.6,439.9 L336.1,438.4 L335.6,436.5 L335.1,434.4 L334.6,431.8 L334.1,428.7 L333.6,424.8 L333.1,419.9 L332.6,412.9 L332.1,397.2 L331.6,413.4 L331.1,421.4 L330.6,427.5 L330.1,432.6 L329.6,436.9 L329.1,440.8 L328.6,444.2 L328.1,447.3 L327.6,450.2 L327.1,452.8 L326.6,455.3 L326.1,457.5 L325.6,459.6 L325.1,461.5 L324.6,463.4 L324.1,465.0 L323.6,466.6 L323.1,468.0 L322.6,469.4 L322.1,470.6 L321.6,471.8 L321.1,472.9 L320.6,473.8 L320.1,474.7 L319.6,475.5 L319.1,476.2 L318.6,476.9 L318.1,477.5 L317.6,477.9 L317.1,478.4 L316.6,478.7 L316.1,479.0 L315.6,479.1 L315.1,479.3 L314.6,479.3 L314.1,479.3 L313.6,479.2 L313.1,479.0 L312.6,478.7 L312.1,478.4 L311.6,477.9 L311.1,477.4 L310.6,476.8 L310.1,476.1 L309.6,475.4 L309.1,474.5 L308.6,473.5 L308.1,472.5 L307.6,471.3 L307.1,470.0 L306.6,468.6 L306.1,467.0 L305.6,465.3 L305.1,463.4 L304.6,461.4 L304.1,459.1 L303.6,456.6 L303.1,453.9 L302.6,450.8 L302.1,447.3 L301.6,443.4 L301.1,438.7 L300.6,433.0 L300.1,425.4 L299.6,409.4 L299.1,425.5 L298.6,433.2 L298.1,439.0 L297.6,443.6 L297.1,447.5 L296.6,450.9 L296.1,453.9 L295.6,456.6 L295.1,459.0 L294.6,461.1 L294.1,463.0 L293.6,464.7 L293.1,466.2 L292.6,467.6 L292.1,468.8 L291.6,469.9 L291.1,470.8 L290.6,471.6 L290.1,472.3 L289.6,472.8 L289.1,473.3 L288.6,473.6 L288.1,473.8 L287.6,473.9 L287.1,473.9 L286.6,473.8 L286.1,473.6 L285.6,473.2 L285.1,472.8 L284.6,472.3 L284.1,471.6 L283.6,470.8 L283.1,469.9 L282.6,468.9 L282.1,467.7 L281.6,466.5 L281.1,465.0 L280.6,463.5 L280.1,461.7 L279.6,459.8 L279.1,457.7 L278.6,455.4 L278.1,452.8 L277.6,450.0 L277.1,446.8 L276.6,443.3 L276.1,439.2 L275.6,434.5 L275.1,428.8 L274.6,421.5 L274.1,409.3 L274.0,404.0 L273.6,415.3 L273.1,420.5 L272.6,422.6 L272.1,422.7 L271.6,421.0 L271.1,417.6 L270.6,411.6 L270.1,400.2 L270.0,395.0 L269.6,406.0 L269.1,410.3 L268.6,411.0 L268.1,409.1 L267.6,404.1 L267.1,393.2 L267.0,388.1 L266.6,401.4 L266.1,409.9 L265.6,416.2 L265.1,421.4 L264.6,426.0 L264.1,430.0 L263.6,433.7 L263.1,437.1 L262.6,440.2 L262.1,443.2 L261.6,446.0 L261.1,448.6 L260.6,451.1 L260.1,453.4 L259.6,455.7 L259.1,457.8 L258.6,459.9 L258.1,461.9 L257.6,463.8 L257.1,465.7 L256.6,467.5 L256.1,469.2 L255.6,470.8 L255.1,472.5 L254.6,474.0 L254.1,475.5 L253.6,477.0 L253.1,478.4 L252.6,479.8 L252.1,481.1 L251.6,482.5 L251.1,483.7 L250.6,485.0 L250.1,486.2 L249.6,487.3 L249.1,488.5 L248.6,489.6 L248.1,490.7 L247.6,491.7 L247.1,492.7 L246.6,493.7 L246.1,494.7 L245.6,495.7 L245.1,496.6 L244.6,497.5 L244.1,498.4 L243.6,499.2 L243.1,500.1 L242.6,500.9 L242.1,501.7 L241.6,502.5 L241.1,503.2 L240.6,504.0 L240.1,504.7 L239.6,505.4 L239.1,506.0 L238.6,506.7 L238.1,507.4 L237.6,508.0 L237.1,508.6 L236.6,509.2 L236.1,509.8 L235.6,510.3 L235.1,510.9 L234.6,511.4 L234.1,511.9 L233.6,512.4 L233.1,512.9 L232.6,513.4 L232.1,513.9 L231.6,514.3 L231.1,514.7 L230.6,515.1 L230.1,515.5 L229.6,515.9 L229.1,516.3 L228.6,516.7 L228.1,517.0 L227.6,517.3 L227.1,517.7 L226.6,518.0 L226.1,518.3 L225.6,518.6 L225.1,518.8 L224.6,519.1 L224.1,519.3 L223.6,519.6 L223.1,519.8 L222.6,520.0 L222.1,520.2 L221.6,520.4 L221.1,520.5 L220.6,520.7 L220.1,520.8 L219.6,521.0 L219.1,521.1 L218.6,521.2 L218.1,521.3 L217.6,521.4 L217.1,521.4 L216.6,521.5 L216.1,521.5 L215.6,521.6 L215.1,521.6 L214.6,521.6 L214.1,521.6 L213.6,521.6 L213.1,521.6 L212.6,521.5 L212.1,521.5 L211.6,521.4 L211.1,521.3 L210.6,521.2 L210.1,521.1 L209.6,521.0 L209.1,520.9 L208.6,520.7 L208.1,520.6 L207.6,520.4 L207.1,520.2 L206.6,520.0 L206.1,519.8 L205.6,519.6 L205.1,519.4 L204.6,519.1 L204.1,518.9 L203.6,518.6 L203.1,518.3 L202.6,518.0 L202.1,517.7 L201.6,517.3 L201.1,517.0 L200.6,516.6 L200.1,516.2 L199.6,515.8 L199.1,515.4 L198.6,515.0 L198.1,514.5 L197.6,514.1 L197.1,513.6 L196.6,513.1 L196.1,512.6 L195.6,512.0 L195.1,511.5 L194.6,510.9 L194.1,510.3 L193.6,509.7 L193.1,509.1 L192.6,508.4 L192.1,507.7 L191.6,507.0 L191.1,506.3 L190.6,505.6 L190.1,504.8 L189.6,504.0 L189.1,503.2 L188.6,502.3 L188.1,501.5 L187.6,500.6 L187.1,499.7 L186.6,498.7 L186.1,497.7 L185.6,496.7 L185.1,495.7 L184.6,494.6 L184.1,493.4 L183.6,492.3 L183.1,491.1 L182.6,489.9 L182.1,488.6 L181.6,487.3 L181.1,485.9 L180.6,484.5 L180.1,483.0 L179.6,481.5 L179.1,479.9 L178.6,478.2 L178.1,476.5 L177.6,474.7 L177.1,472.8 L176.6,470.8 L176.1,468.8 L175.6,466.6 L175.1,464.3 L174.6,461.9 L174.1,459.3 L173.6,456.6 L173.1,453.7 L172.6,450.5 L172.1,447.0 L171.6,443.2 L171.1,438.9 L170.6,433.9Z"/>
<path d="M862.6,112V135" stroke="#b8b8b8" stroke-width="0.9"/>
<path d="M818.4,142V155" stroke="#b8b8b8" stroke-width="0.9"/>
<path d="M833.5,135V150" stroke="#b8b8b8" stroke-width="0.9"/>
<path d="M855,180V200" stroke="#b8b8b8" stroke-width="0.9"/>
<path d="M858.5,178V200" stroke="#b8b8b8" stroke-width="0.9"/>
<path d="M887.5,205V228" stroke="#b8b8b8" stroke-width="0.9"/>
<path d="M891,212V236" stroke="#b8b8b8" stroke-width="0.9"/>
<path d="M893.5,225V240" stroke="#b8b8b8" stroke-width="0.9"/>
<path d="M919.4,270V296" stroke="#b8b8b8" stroke-width="0.9"/>
<path d="M923,285V300" stroke="#b8b8b8" stroke-width="0.9"/>
<path d="M921,455V492" stroke="#b8b8b8" stroke-width="0.9"/>
<path d="M924,450V480" stroke="#b8b8b8" stroke-width="0.9"/>
<path d="M918,445V470" stroke="#b8b8b8" stroke-width="0.9"/>
<path d="M951,455V470" stroke="#b8b8b8" stroke-width="0.9"/>
<path d="M963,450V465" stroke="#b8b8b8" stroke-width="0.9"/>
<path d="M897,398V412" stroke="#b8b8b8" stroke-width="0.9"/>
<path d="M838,300V322" stroke="#b8b8b8" stroke-width="0.9"/>
<path d="M851,305V322" stroke="#b8b8b8" stroke-width="0.9"/>
<path d="M866,300V318" stroke="#b8b8b8" stroke-width="0.9"/>
<path d="M812,305V320" stroke="#b8b8b8" stroke-width="0.9"/>
<circle cx="170.8" cy="401.2" r="10.3" fill="#1f77b4" opacity="0.8"/>
<circle cx="170.8" cy="414.2" r="10.3" fill="#1f77b4" opacity="0.8"/>
<circle cx="267.0" cy="377.3" r="10.3" fill="#1f77b4" opacity="0.8"/>
<circle cx="267.4" cy="382.5" r="10.3" fill="#1f77b4" opacity="0.8"/>
<circle cx="268.0" cy="387.5" r="10.3" fill="#1f77b4" opacity="0.8"/>
<circle cx="270.5" cy="392.5" r="10.3" fill="#1f77b4" opacity="0.8"/>
<circle cx="272.8" cy="396.5" r="10.3" fill="#1f77b4" opacity="0.8"/>
<circle cx="274.0" cy="399.1" r="10.3" fill="#1f77b4" opacity="0.8"/>
<circle cx="299.6" cy="404.4" r="10.3" fill="#1f77b4" opacity="0.8"/>
<circle cx="299.6" cy="405.3" r="10.3" fill="#1f77b4" opacity="0.8"/>
<circle cx="299.6" cy="406.2" r="10.3" fill="#1f77b4" opacity="0.8"/>
<circle cx="332.1" cy="388.6" r="10.3" fill="#1f77b4" opacity="0.8"/>
<circle cx="331.6" cy="393.2" r="10.3" fill="#1f77b4" opacity="0.8"/>
<circle cx="332.1" cy="397.8" r="10.3" fill="#1f77b4" opacity="0.8"/>
<circle cx="363.4" cy="316.8" r="10.3" fill="#1f77b4" opacity="0.8"/>
<circle cx="363.8" cy="314.5" r="10.3" fill="#1f77b4" opacity="0.8"/>
<circle cx="364.5" cy="312.0" r="10.3" fill="#1f77b4" opacity="0.8"/>
<circle cx="365.2" cy="310.0" r="10.3" fill="#1f77b4" opacity="0.8"/>
<circle cx="365.8" cy="307.5" r="10.3" fill="#1f77b4" opacity="0.8"/>
<circle cx="366.6" cy="304.3" r="10.3" fill="#1f77b4" opacity="0.8"/>
<path d="M170.8,395.0V407.4" stroke="#1f77b4" stroke-width="2.35" opacity="0.8"/><path d="M159.5,395.0h22.6M159.5,407.4h22.6" stroke="#1f77b4" stroke-width="2.35" opacity="0.8"/>
<path d="M170.8,409.0V419.4" stroke="#1f77b4" stroke-width="2.35" opacity="0.8"/><path d="M159.5,409.0h22.6M159.5,419.4h22.6" stroke="#1f77b4" stroke-width="2.35" opacity="0.8"/>
<path d="M267.0,370.8V383.8" stroke="#1f77b4" stroke-width="2.35" opacity="0.8"/><path d="M255.7,370.8h22.6M255.7,383.8h22.6" stroke="#1f77b4" stroke-width="2.35" opacity="0.8"/>
<path d="M267.4,377.5V387.5" stroke="#1f77b4" stroke-width="2.35" opacity="0.8"/><path d="M256.1,377.5h22.6M256.1,387.5h22.6" stroke="#1f77b4" stroke-width="2.35" opacity="0.8"/>
<path d="M268.0,382.5V392.5" stroke="#1f77b4" stroke-width="2.35" opacity="0.8"/><path d="M256.7,382.5h22.6M256.7,392.5h22.6" stroke="#1f77b4" stroke-width="2.35" opacity="0.8"/>
<path d="M270.5,388.0V397.0" stroke="#1f77b4" stroke-width="2.35" opacity="0.8"/><path d="M259.2,388.0h22.6M259.2,397.0h22.6" stroke="#1f77b4" stroke-width="2.35" opacity="0.8"/>
<path d="M272.8,391.5V401.5" stroke="#1f77b4" stroke-width="2.35" opacity="0.8"/><path d="M261.5,391.5h22.6M261.5,401.5h22.6" stroke="#1f77b4" stroke-width="2.35" opacity="0.8"/>
<path d="M274.0,393.6V404.6" stroke="#1f77b4" stroke-width="2.35" opacity="0.8"/><path d="M262.7,393.6h22.6M262.7,404.6h22.6" stroke="#1f77b4" stroke-width="2.35" opacity="0.8"/>
<path d="M299.6,399.9V408.9" stroke="#1f77b4" stroke-width="2.35" opacity="0.8"/><path d="M288.3,399.9h22.6M288.3,408.9h22.6" stroke="#1f77b4" stroke-width="2.35" opacity="0.8"/>
<path d="M299.6,400.3V410.3" stroke="#1f77b4" stroke-width="2.35" opacity="0.8"/><path d="M288.3,400.3h22.6M288.3,410.3h22.6" stroke="#1f77b4" stroke-width="2.35" opacity="0.8"/>
<path d="M299.6,401.7V410.7" stroke="#1f77b4" stroke-width="2.35" opacity="0.8"/><path d="M288.3,401.7h22.6M288.3,410.7h22.6" stroke="#1f77b4" stroke-width="2.35" opacity="0.8"/>
<path d="M332.1,383.1V394.1" stroke="#1f77b4" stroke-width="2.35" opacity="0.8"/><path d="M320.8,383.1h22.6M320.8,394.1h22.6" stroke="#1f77b4" stroke-width="2.35" opacity="0.8"/>
<path d="M331.6,387.7V398.7" stroke="#1f77b4" stroke-width="2.35" opacity="0.8"/><path d="M320.3,387.7h22.6M320.3,398.7h22.6" stroke="#1f77b4" stroke-width="2.35" opacity="0.8"/>
<path d="M332.1,392.8V402.8" stroke="#1f77b4" stroke-width="2.35" opacity="0.8"/><path d="M320.8,392.8h22.6M320.8,402.8h22.6" stroke="#1f77b4" stroke-width="2.35" opacity="0.8"/>
<path d="M363.4,311.8V321.8" stroke="#1f77b4" stroke-width="2.35" opacity="0.8"/><path d="M352.1,311.8h22.6M352.1,321.8h22.6" stroke="#1f77b4" stroke-width="2.35" opacity="0.8"/>
<path d="M363.8,310.5V318.5" stroke="#1f77b4" stroke-width="2.35" opacity="0.8"/><path d="M352.5,310.5h22.6M352.5,318.5h22.6" stroke="#1f77b4" stroke-width="2.35" opacity="0.8"/>
<path d="M364.5,308.0V316.0" stroke="#1f77b4" stroke-width="2.35" opacity="0.8"/><path d="M353.2,308.0h22.6M353.2,316.0h22.6" stroke="#1f77b4" stroke-width="2.35" opacity="0.8"/>
<path d="M365.2,306.0V314.0" stroke="#1f77b4" stroke-width="2.35" opacity="0.8"/><path d="M353.9,306.0h22.6M353.9,314.0h22.6" stroke="#1f77b4" stroke-width="2.35" opacity="0.8"/>
<path d="M365.8,303.5V311.5" stroke="#1f77b4" stroke-width="2.35" opacity="0.8"/><path d="M354.5,303.5h22.6M354.5,311.5h22.6" stroke="#1f77b4" stroke-width="2.35" opacity="0.8"/>
<path d="M366.6,299.3V309.3" stroke="#1f77b4" stroke-width="2.35" opacity="0.8"/><path d="M355.3,299.3h22.6M355.3,309.3h22.6" stroke="#1f77b4" stroke-width="2.35" opacity="0.8"/>
<path d="M595.3,188.5L584.1,210.9H606.5Z" fill="#ff7f0e" opacity="0.8"/>
<path d="M595.3,191.3L584.1,213.7H606.5Z" fill="#ff7f0e" opacity="0.8"/>
<path d="M595.3,190.0L584.1,212.4H606.5Z" fill="#ff7f0e" opacity="0.8"/>
<path d="M659.7,279.5L648.5,301.9H670.9Z" fill="#ff7f0e" opacity="0.8"/>
<path d="M659.7,279.5L648.5,301.9H670.9Z" fill="#ff7f0e" opacity="0.8"/>
<path d="M595.3,193.5V205.9" stroke="#ff7f0e" stroke-width="2.35" opacity="0.8"/><path d="M584.0,193.5h22.6M584.0,205.9h22.6" stroke="#ff7f0e" stroke-width="2.35" opacity="0.8"/>
<path d="M595.3,199.5V205.5" stroke="#ff7f0e" stroke-width="2.35" opacity="0.8"/><path d="M584.0,199.5h22.6M584.0,205.5h22.6" stroke="#ff7f0e" stroke-width="2.35" opacity="0.8"/>
<path d="M595.3,195.0V207.4" stroke="#ff7f0e" stroke-width="2.35" opacity="0.8"/><path d="M584.0,195.0h22.6M584.0,207.4h22.6" stroke="#ff7f0e" stroke-width="2.35" opacity="0.8"/>
<path d="M659.7,273.1V308.3" stroke="#ff7f0e" stroke-width="2.35" opacity="0.8"/><path d="M648.4,273.1h22.6M648.4,308.3h22.6" stroke="#ff7f0e" stroke-width="2.35" opacity="0.8"/>
<path d="M659.7,283.6V297.8" stroke="#ff7f0e" stroke-width="2.35" opacity="0.8"/><path d="M648.4,283.6h22.6M648.4,297.8h22.6" stroke="#ff7f0e" stroke-width="2.35" opacity="0.8"/>
<rect x="612.6" y="232.8" width="20.9" height="20.9" fill="#2ca02c" opacity="0.8"/>
<rect x="683.0" y="204.6" width="20.9" height="20.9" fill="#2ca02c" opacity="0.8"/>
<rect x="684.6" y="207.6" width="20.9" height="20.9" fill="#2ca02c" opacity="0.8"/>
<rect x="684.8" y="209.2" width="20.9" height="20.9" fill="#2ca02c" opacity="0.8"/>
<rect x="684.3" y="210.8" width="20.9" height="20.9" fill="#2ca02c" opacity="0.8"/>
<rect x="684.0" y="212.5" width="20.9" height="20.9" fill="#2ca02c" opacity="0.8"/>
<rect x="684.8" y="214.1" width="20.9" height="20.9" fill="#2ca02c" opacity="0.8"/>
<rect x="684.3" y="215.8" width="20.9" height="20.9" fill="#2ca02c" opacity="0.8"/>
<rect x="684.2" y="217.4" width="20.9" height="20.9" fill="#2ca02c" opacity="0.8"/>
<rect x="684.5" y="219.0" width="20.9" height="20.9" fill="#2ca02c" opacity="0.8"/>
<rect x="685.0" y="220.7" width="20.9" height="20.9" fill="#2ca02c" opacity="0.8"/>
<rect x="684.6" y="222.3" width="20.9" height="20.9" fill="#2ca02c" opacity="0.8"/>
<rect x="684.2" y="224.0" width="20.9" height="20.9" fill="#2ca02c" opacity="0.8"/>
<rect x="684.6" y="225.6" width="20.9" height="20.9" fill="#2ca02c" opacity="0.8"/>
<rect x="678.8" y="207.6" width="20.9" height="20.9" fill="#2ca02c" opacity="0.8"/>
<rect x="679.0" y="211.2" width="20.9" height="20.9" fill="#2ca02c" opacity="0.8"/>
<rect x="679.1" y="214.8" width="20.9" height="20.9" fill="#2ca02c" opacity="0.8"/>
<rect x="679.0" y="218.4" width="20.9" height="20.9" fill="#2ca02c" opacity="0.8"/>
<rect x="678.8" y="222.0" width="20.9" height="20.9" fill="#2ca02c" opacity="0.8"/>
<rect x="679.2" y="225.6" width="20.9" height="20.9" fill="#2ca02c" opacity="0.8"/>
<path d="M623.0,231.2V255.2" stroke="#2ca02c" stroke-width="2.35" opacity="0.8"/><path d="M611.8,231.2h22.6M611.8,255.2h22.6" stroke="#2ca02c" stroke-width="2.35" opacity="0.8"/>
<path d="M693.5,164.0V266.0" stroke="#2ca02c" stroke-width="2.35" opacity="0.8"/><path d="M682.2,164.0h22.6M682.2,266.0h22.6" stroke="#2ca02c" stroke-width="2.35" opacity="0.8"/>
<path d="M695.1,199.5V236.5" stroke="#2ca02c" stroke-width="2.35" opacity="0.8"/><path d="M683.8,199.5h22.6M683.8,236.5h22.6" stroke="#2ca02c" stroke-width="2.35" opacity="0.8"/>
<path d="M695.3,207.5V231.8" stroke="#2ca02c" stroke-width="2.35" opacity="0.8"/><path d="M684.0,207.5h22.6M684.0,231.8h22.6" stroke="#2ca02c" stroke-width="2.35" opacity="0.8"/>
<path d="M694.7,203.0V239.6" stroke="#2ca02c" stroke-width="2.35" opacity="0.8"/><path d="M683.4,203.0h22.6M683.4,239.6h22.6" stroke="#2ca02c" stroke-width="2.35" opacity="0.8"/>
<path d="M694.4,205.1V240.7" stroke="#2ca02c" stroke-width="2.35" opacity="0.8"/><path d="M683.1,205.1h22.6M683.1,240.7h22.6" stroke="#2ca02c" stroke-width="2.35" opacity="0.8"/>
<path d="M695.3,210.1V239.0" stroke="#2ca02c" stroke-width="2.35" opacity="0.8"/><path d="M684.0,210.1h22.6M684.0,239.0h22.6" stroke="#2ca02c" stroke-width="2.35" opacity="0.8"/>
<path d="M694.7,213.6V238.8" stroke="#2ca02c" stroke-width="2.35" opacity="0.8"/><path d="M683.4,213.6h22.6M683.4,238.8h22.6" stroke="#2ca02c" stroke-width="2.35" opacity="0.8"/>
<path d="M694.7,213.6V242.1" stroke="#2ca02c" stroke-width="2.35" opacity="0.8"/><path d="M683.4,213.6h22.6M683.4,242.1h22.6" stroke="#2ca02c" stroke-width="2.35" opacity="0.8"/>
<path d="M695.0,214.2V244.7" stroke="#2ca02c" stroke-width="2.35" opacity="0.8"/><path d="M683.7,214.2h22.6M683.7,244.7h22.6" stroke="#2ca02c" stroke-width="2.35" opacity="0.8"/>
<path d="M695.5,213.6V248.7" stroke="#2ca02c" stroke-width="2.35" opacity="0.8"/><path d="M684.2,213.6h22.6M684.2,248.7h22.6" stroke="#2ca02c" stroke-width="2.35" opacity="0.8"/>
<path d="M695.1,213.4V252.2" stroke="#2ca02c" stroke-width="2.35" opacity="0.8"/><path d="M683.8,213.4h22.6M683.8,252.2h22.6" stroke="#2ca02c" stroke-width="2.35" opacity="0.8"/>
<path d="M694.6,222.9V245.9" stroke="#2ca02c" stroke-width="2.35" opacity="0.8"/><path d="M683.3,222.9h22.6M683.3,245.9h22.6" stroke="#2ca02c" stroke-width="2.35" opacity="0.8"/>
<path d="M695.1,225.6V246.5" stroke="#2ca02c" stroke-width="2.35" opacity="0.8"/><path d="M683.8,225.6h22.6M683.8,246.5h22.6" stroke="#2ca02c" stroke-width="2.35" opacity="0.8"/>
<path d="M689.2,210.9V225.1" stroke="#2ca02c" stroke-width="2.35" opacity="0.8"/><path d="M677.9,210.9h22.6M677.9,225.1h22.6" stroke="#2ca02c" stroke-width="2.35" opacity="0.8"/>
<path d="M689.5,212.9V230.3" stroke="#2ca02c" stroke-width="2.35" opacity="0.8"/><path d="M678.2,212.9h22.6M678.2,230.3h22.6" stroke="#2ca02c" stroke-width="2.35" opacity="0.8"/>
<path d="M689.6,218.1V232.3" stroke="#2ca02c" stroke-width="2.35" opacity="0.8"/><path d="M678.3,218.1h22.6M678.3,232.3h22.6" stroke="#2ca02c" stroke-width="2.35" opacity="0.8"/>
<path d="M689.5,222.8V234.8" stroke="#2ca02c" stroke-width="2.35" opacity="0.8"/><path d="M678.2,222.8h22.6M678.2,234.8h22.6" stroke="#2ca02c" stroke-width="2.35" opacity="0.8"/>
<path d="M689.2,226.6V238.2" stroke="#2ca02c" stroke-width="2.35" opacity="0.8"/><path d="M677.9,226.6h22.6M677.9,238.2h22.6" stroke="#2ca02c" stroke-width="2.35" opacity="0.8"/>
<path d="M689.6,230.2V241.8" stroke="#2ca02c" stroke-width="2.35" opacity="0.8"/><path d="M678.3,230.2h22.6M678.3,241.8h22.6" stroke="#2ca02c" stroke-width="2.35" opacity="0.8"/>
<path d="M818.4,152.2L827.5,167.1L818.4,182.0L809.3,167.1Z" fill="#d62728" opacity="0.8"/>
<path d="M818.4,177.0L827.5,191.9L818.4,206.8L809.3,191.9Z" fill="#d62728" opacity="0.8"/>
<path d="M833.7,173.8L842.8,188.7L833.7,203.6L824.6,188.7Z" fill="#d62728" opacity="0.8"/>
<path d="M833.7,188.1L842.8,203.0L833.7,217.9L824.6,203.0Z" fill="#d62728" opacity="0.8"/>
<path d="M862.6,128.0L871.7,142.9L862.6,157.8L853.5,142.9Z" fill="#d62728" opacity="0.8"/>
<path d="M862.6,152.0L871.7,166.9L862.6,181.8L853.5,166.9Z" fill="#d62728" opacity="0.8"/>
<path d="M855.8,188.8L864.9,203.7L855.8,218.6L846.7,203.7Z" fill="#d62728" opacity="0.8"/>
<path d="M887.6,227.1L896.7,242.0L887.6,256.9L878.5,242.0Z" fill="#d62728" opacity="0.8"/>
<path d="M891.0,235.1L900.1,250.0L891.0,264.9L881.9,250.0Z" fill="#d62728" opacity="0.8"/>
<path d="M919.4,303.1L928.5,318.0L919.4,332.9L910.3,318.0Z" fill="#d62728" opacity="0.8"/>
<path d="M926.5,323.1L935.6,338.0L926.5,352.9L917.4,338.0Z" fill="#d62728" opacity="0.8"/>
<path d="M920.0,320.1L929.1,335.0L920.0,349.9L910.9,335.0Z" fill="#d62728" opacity="0.8"/>
<path d="M817.6,220.5L826.7,235.4L817.6,250.3L808.5,235.4Z" fill="#d62728" opacity="0.8"/>
<path d="M821.2,224.5L830.3,239.4L821.2,254.3L812.1,239.4Z" fill="#d62728" opacity="0.8"/>
<path d="M829.4,236.3L838.5,251.2L829.4,266.1L820.3,251.2Z" fill="#d62728" opacity="0.8"/>
<path d="M818.8,259.7L827.9,274.6L818.8,289.5L809.7,274.6Z" fill="#d62728" opacity="0.8"/>
<path d="M829.7,237.3L838.8,252.2L829.7,267.1L820.6,252.2Z" fill="#d62728" opacity="0.8"/>
<path d="M818.3,248.9L827.4,263.8L818.3,278.7L809.2,263.8Z" fill="#d62728" opacity="0.8"/>
<path d="M819.6,245.5L828.7,260.4L819.6,275.3L810.5,260.4Z" fill="#d62728" opacity="0.8"/>
<path d="M831.2,233.9L840.3,248.8L831.2,263.7L822.1,248.8Z" fill="#d62728" opacity="0.8"/>
<path d="M826.4,222.9L835.5,237.8L826.4,252.7L817.3,237.8Z" fill="#d62728" opacity="0.8"/>
<path d="M823.7,237.4L832.8,252.3L823.7,267.2L814.6,252.3Z" fill="#d62728" opacity="0.8"/>
<path d="M818.9,231.5L828.0,246.4L818.9,261.3L809.8,246.4Z" fill="#d62728" opacity="0.8"/>
<path d="M826.9,211.2L836.0,226.1L826.9,241.0L817.8,226.1Z" fill="#d62728" opacity="0.8"/>
<path d="M826.8,199.0L835.9,213.9L826.8,228.8L817.7,213.9Z" fill="#d62728" opacity="0.8"/>
<path d="M830.7,257.8L839.8,272.7L830.7,287.6L821.6,272.7Z" fill="#d62728" opacity="0.8"/>
<path d="M819.5,228.4L828.6,243.3L819.5,258.2L810.4,243.3Z" fill="#d62728" opacity="0.8"/>
<path d="M825.2,227.4L834.3,242.3L825.2,257.2L816.1,242.3Z" fill="#d62728" opacity="0.8"/>
<path d="M826.5,232.9L835.6,247.8L826.5,262.7L817.4,247.8Z" fill="#d62728" opacity="0.8"/>
<path d="M823.3,234.9L832.4,249.8L823.3,264.7L814.2,249.8Z" fill="#d62728" opacity="0.8"/>
<path d="M829.8,246.9L838.9,261.8L829.8,276.7L820.7,261.8Z" fill="#d62728" opacity="0.8"/>
<path d="M822.0,228.9L831.1,243.8L822.0,258.7L812.9,243.8Z" fill="#d62728" opacity="0.8"/>
<path d="M822.7,245.7L831.8,260.6L822.7,275.5L813.6,260.6Z" fill="#d62728" opacity="0.8"/>
<path d="M831.0,204.6L840.1,219.5L831.0,234.4L821.9,219.5Z" fill="#d62728" opacity="0.8"/>
<path d="M824.8,218.8L833.9,233.7L824.8,248.6L815.7,233.7Z" fill="#d62728" opacity="0.8"/>
<path d="M825.8,220.0L834.9,234.9L825.8,249.8L816.7,234.9Z" fill="#d62728" opacity="0.8"/>
<path d="M824.8,244.0L833.9,258.9L824.8,273.8L815.7,258.9Z" fill="#d62728" opacity="0.8"/>
<path d="M819.6,247.8L828.7,262.7L819.6,277.6L810.5,262.7Z" fill="#d62728" opacity="0.8"/>
<path d="M828.0,233.7L837.1,248.6L828.0,263.5L818.9,248.6Z" fill="#d62728" opacity="0.8"/>
<path d="M823.4,239.8L832.5,254.7L823.4,269.6L814.3,254.7Z" fill="#d62728" opacity="0.8"/>
<path d="M826.3,238.6L835.4,253.5L826.3,268.4L817.2,253.5Z" fill="#d62728" opacity="0.8"/>
<path d="M827.7,233.0L836.8,247.9L827.7,262.8L818.6,247.9Z" fill="#d62728" opacity="0.8"/>
<path d="M822.6,241.7L831.7,256.6L822.6,271.5L813.5,256.6Z" fill="#d62728" opacity="0.8"/>
<path d="M830.8,203.5L839.9,218.4L830.8,233.3L821.7,218.4Z" fill="#d62728" opacity="0.8"/>
<path d="M821.3,249.2L830.4,264.1L821.3,279.0L812.2,264.1Z" fill="#d62728" opacity="0.8"/>
<path d="M831.2,257.7L840.3,272.6L831.2,287.5L822.1,272.6Z" fill="#d62728" opacity="0.8"/>
<path d="M830.1,230.1L839.2,245.0L830.1,259.9L821.0,245.0Z" fill="#d62728" opacity="0.8"/>
<path d="M823.5,255.0L832.6,269.9L823.5,284.8L814.4,269.9Z" fill="#d62728" opacity="0.8"/>
<path d="M830.4,220.7L839.5,235.6L830.4,250.5L821.3,235.6Z" fill="#d62728" opacity="0.8"/>
<path d="M824.8,257.8L833.9,272.7L824.8,287.6L815.7,272.7Z" fill="#d62728" opacity="0.8"/>
<path d="M828.8,235.3L837.9,250.2L828.8,265.1L819.7,250.2Z" fill="#d62728" opacity="0.8"/>
<path d="M826.3,225.0L835.4,239.9L826.3,254.8L817.2,239.9Z" fill="#d62728" opacity="0.8"/>
<path d="M823.1,228.3L832.2,243.2L823.1,258.1L814.0,243.2Z" fill="#d62728" opacity="0.8"/>
<path d="M820.5,220.5L829.6,235.4L820.5,250.3L811.4,235.4Z" fill="#d62728" opacity="0.8"/>
<path d="M819.1,216.0L828.2,230.9L819.1,245.8L810.0,230.9Z" fill="#d62728" opacity="0.8"/>
<path d="M825.8,260.6L834.9,275.5L825.8,290.4L816.7,275.5Z" fill="#d62728" opacity="0.8"/>
<path d="M831.0,223.7L840.1,238.6L831.0,253.5L821.9,238.6Z" fill="#d62728" opacity="0.8"/>
<path d="M826.4,234.7L835.5,249.6L826.4,264.5L817.3,249.6Z" fill="#d62728" opacity="0.8"/>
<path d="M823.3,243.3L832.4,258.2L823.3,273.1L814.2,258.2Z" fill="#d62728" opacity="0.8"/>
<path d="M827.7,215.0L836.8,229.9L827.7,244.8L818.6,229.9Z" fill="#d62728" opacity="0.8"/>
<path d="M828.7,225.9L837.8,240.8L828.7,255.7L819.6,240.8Z" fill="#d62728" opacity="0.8"/>
<path d="M830.3,227.1L839.4,242.0L830.3,256.9L821.2,242.0Z" fill="#d62728" opacity="0.8"/>
<path d="M817.8,229.6L826.9,244.5L817.8,259.4L808.7,244.5Z" fill="#d62728" opacity="0.8"/>
<path d="M820.1,256.4L829.2,271.3L820.1,286.2L811.0,271.3Z" fill="#d62728" opacity="0.8"/>
<path d="M825.8,224.9L834.9,239.8L825.8,254.7L816.7,239.8Z" fill="#d62728" opacity="0.8"/>
<path d="M817.8,252.6L826.9,267.5L817.8,282.4L808.7,267.5Z" fill="#d62728" opacity="0.8"/>
<path d="M825.0,249.2L834.1,264.1L825.0,279.0L815.9,264.1Z" fill="#d62728" opacity="0.8"/>
<path d="M826.1,226.9L835.2,241.8L826.1,256.7L817.0,241.8Z" fill="#d62728" opacity="0.8"/>
<path d="M818.1,250.7L827.2,265.6L818.1,280.5L809.0,265.6Z" fill="#d62728" opacity="0.8"/>
<path d="M829.5,269.1L838.6,284.0L829.5,298.9L820.4,284.0Z" fill="#d62728" opacity="0.8"/>
<path d="M822.0,204.5L831.1,219.4L822.0,234.3L812.9,219.4Z" fill="#d62728" opacity="0.8"/>
<path d="M828.7,234.9L837.8,249.8L828.7,264.7L819.6,249.8Z" fill="#d62728" opacity="0.8"/>
<path d="M828.7,197.1L837.8,212.0L828.7,226.9L819.6,212.0Z" fill="#d62728" opacity="0.8"/>
<path d="M829.9,230.7L839.0,245.6L829.9,260.5L820.8,245.6Z" fill="#d62728" opacity="0.8"/>
<path d="M826.4,207.7L835.5,222.6L826.4,237.5L817.3,222.6Z" fill="#d62728" opacity="0.8"/>
<path d="M826.8,205.4L835.9,220.3L826.8,235.2L817.7,220.3Z" fill="#d62728" opacity="0.8"/>
<path d="M828.7,242.5L837.8,257.4L828.7,272.3L819.6,257.4Z" fill="#d62728" opacity="0.8"/>
<path d="M829.6,217.0L838.7,231.9L829.6,246.8L820.5,231.9Z" fill="#d62728" opacity="0.8"/>
<path d="M817.9,220.9L827.0,235.8L817.9,250.7L808.8,235.8Z" fill="#d62728" opacity="0.8"/>
<path d="M825.4,271.7L834.5,286.6L825.4,301.5L816.3,286.6Z" fill="#d62728" opacity="0.8"/>
<path d="M821.0,233.5L830.1,248.4L821.0,263.3L811.9,248.4Z" fill="#d62728" opacity="0.8"/>
<path d="M818.9,226.8L828.0,241.7L818.9,256.6L809.8,241.7Z" fill="#d62728" opacity="0.8"/>
<path d="M826.8,236.6L835.9,251.5L826.8,266.4L817.7,251.5Z" fill="#d62728" opacity="0.8"/>
<path d="M822.7,234.7L831.8,249.6L822.7,264.5L813.6,249.6Z" fill="#d62728" opacity="0.8"/>
<path d="M821.5,267.5L830.6,282.4L821.5,297.3L812.4,282.4Z" fill="#d62728" opacity="0.8"/>
<path d="M819.8,270.1L828.9,285.0L819.8,299.9L810.7,285.0Z" fill="#d62728" opacity="0.8"/>
<path d="M822.0,271.5L831.1,286.4L822.0,301.3L812.9,286.4Z" fill="#d62728" opacity="0.8"/>
<path d="M820.3,273.5L829.4,288.4L820.3,303.3L811.2,288.4Z" fill="#d62728" opacity="0.8"/>
<path d="M819.8,266.5L828.9,281.4L819.8,296.3L810.7,281.4Z" fill="#d62728" opacity="0.8"/>
<path d="M822.1,268.1L831.2,283.0L822.1,297.9L813.0,283.0Z" fill="#d62728" opacity="0.8"/>
<path d="M853.3,222.1L862.4,237.0L853.3,251.9L844.2,237.0Z" fill="#d62728" opacity="0.8"/>
<path d="M856.6,232.5L865.7,247.4L856.6,262.3L847.5,247.4Z" fill="#d62728" opacity="0.8"/>
<path d="M862.7,267.9L871.8,282.8L862.7,297.7L853.6,282.8Z" fill="#d62728" opacity="0.8"/>
<path d="M861.8,249.8L870.9,264.7L861.8,279.6L852.7,264.7Z" fill="#d62728" opacity="0.8"/>
<path d="M859.1,239.9L868.2,254.8L859.1,269.7L850.0,254.8Z" fill="#d62728" opacity="0.8"/>
<path d="M854.7,214.6L863.8,229.5L854.7,244.4L845.6,229.5Z" fill="#d62728" opacity="0.8"/>
<path d="M865.7,257.7L874.8,272.6L865.7,287.5L856.6,272.6Z" fill="#d62728" opacity="0.8"/>
<path d="M864.0,264.2L873.1,279.1L864.0,294.0L854.9,279.1Z" fill="#d62728" opacity="0.8"/>
<path d="M867.4,200.5L876.5,215.4L867.4,230.3L858.3,215.4Z" fill="#d62728" opacity="0.8"/>
<path d="M863.6,252.6L872.7,267.5L863.6,282.4L854.5,267.5Z" fill="#d62728" opacity="0.8"/>
<path d="M853.2,239.2L862.3,254.1L853.2,269.0L844.1,254.1Z" fill="#d62728" opacity="0.8"/>
<path d="M862.6,236.1L871.7,251.0L862.6,265.9L853.5,251.0Z" fill="#d62728" opacity="0.8"/>
<path d="M857.3,234.0L866.4,248.9L857.3,263.8L848.2,248.9Z" fill="#d62728" opacity="0.8"/>
<path d="M859.5,265.6L868.6,280.5L859.5,295.4L850.4,280.5Z" fill="#d62728" opacity="0.8"/>
<path d="M862.6,228.5L871.7,243.4L862.6,258.3L853.5,243.4Z" fill="#d62728" opacity="0.8"/>
<path d="M866.1,251.7L875.2,266.6L866.1,281.5L857.0,266.6Z" fill="#d62728" opacity="0.8"/>
<path d="M863.3,230.9L872.4,245.8L863.3,260.7L854.2,245.8Z" fill="#d62728" opacity="0.8"/>
<path d="M862.5,230.6L871.6,245.5L862.5,260.4L853.4,245.5Z" fill="#d62728" opacity="0.8"/>
<path d="M852.2,220.4L861.3,235.3L852.2,250.2L843.1,235.3Z" fill="#d62728" opacity="0.8"/>
<path d="M852.0,264.1L861.1,279.0L852.0,293.9L842.9,279.0Z" fill="#d62728" opacity="0.8"/>
<path d="M857.8,223.6L866.9,238.5L857.8,253.4L848.7,238.5Z" fill="#d62728" opacity="0.8"/>
<path d="M866.0,216.2L875.1,231.1L866.0,246.0L856.9,231.1Z" fill="#d62728" opacity="0.8"/>
<path d="M851.2,230.2L860.3,245.1L851.2,260.0L842.1,245.1Z" fill="#d62728" opacity="0.8"/>
<path d="M855.5,241.2L864.6,256.1L855.5,271.0L846.4,256.1Z" fill="#d62728" opacity="0.8"/>
<path d="M858.0,259.5L867.1,274.4L858.0,289.3L848.9,274.4Z" fill="#d62728" opacity="0.8"/>
<path d="M865.6,264.1L874.7,279.0L865.6,293.9L856.5,279.0Z" fill="#d62728" opacity="0.8"/>
<path d="M856.9,272.3L866.0,287.2L856.9,302.1L847.8,287.2Z" fill="#d62728" opacity="0.8"/>
<path d="M858.8,209.3L867.9,224.2L858.8,239.1L849.7,224.2Z" fill="#d62728" opacity="0.8"/>
<path d="M865.1,253.4L874.2,268.3L865.1,283.2L856.0,268.3Z" fill="#d62728" opacity="0.8"/>
<path d="M861.7,225.5L870.8,240.4L861.7,255.3L852.6,240.4Z" fill="#d62728" opacity="0.8"/>
<path d="M855.0,239.2L864.1,254.1L855.0,269.0L845.9,254.1Z" fill="#d62728" opacity="0.8"/>
<path d="M859.4,234.3L868.5,249.2L859.4,264.1L850.3,249.2Z" fill="#d62728" opacity="0.8"/>
<path d="M865.3,244.7L874.4,259.6L865.3,274.5L856.2,259.6Z" fill="#d62728" opacity="0.8"/>
<path d="M852.0,236.2L861.1,251.1L852.0,266.0L842.9,251.1Z" fill="#d62728" opacity="0.8"/>
<path d="M854.0,198.0L863.1,212.9L854.0,227.8L844.9,212.9Z" fill="#d62728" opacity="0.8"/>
<path d="M858.9,248.6L868.0,263.5L858.9,278.4L849.8,263.5Z" fill="#d62728" opacity="0.8"/>
<path d="M850.7,228.0L859.8,242.9L850.7,257.8L841.6,242.9Z" fill="#d62728" opacity="0.8"/>
<path d="M851.2,275.1L860.3,290.0L851.2,304.9L842.1,290.0Z" fill="#d62728" opacity="0.8"/>
<path d="M865.4,212.8L874.5,227.7L865.4,242.6L856.3,227.7Z" fill="#d62728" opacity="0.8"/>
<path d="M863.3,213.2L872.4,228.1L863.3,243.0L854.2,228.1Z" fill="#d62728" opacity="0.8"/>
<path d="M861.9,256.3L871.0,271.2L861.9,286.1L852.8,271.2Z" fill="#d62728" opacity="0.8"/>
<path d="M852.9,226.1L862.0,241.0L852.9,255.9L843.8,241.0Z" fill="#d62728" opacity="0.8"/>
<path d="M866.1,227.7L875.2,242.6L866.1,257.5L857.0,242.6Z" fill="#d62728" opacity="0.8"/>
<path d="M866.4,207.6L875.5,222.5L866.4,237.4L857.3,222.5Z" fill="#d62728" opacity="0.8"/>
<path d="M851.6,239.2L860.7,254.1L851.6,269.0L842.5,254.1Z" fill="#d62728" opacity="0.8"/>
<path d="M864.1,220.2L873.2,235.1L864.1,250.0L855.0,235.1Z" fill="#d62728" opacity="0.8"/>
<path d="M862.3,227.9L871.4,242.8L862.3,257.7L853.2,242.8Z" fill="#d62728" opacity="0.8"/>
<path d="M857.6,212.0L866.7,226.9L857.6,241.8L848.5,226.9Z" fill="#d62728" opacity="0.8"/>
<path d="M864.6,243.9L873.7,258.8L864.6,273.7L855.5,258.8Z" fill="#d62728" opacity="0.8"/>
<path d="M853.7,246.5L862.8,261.4L853.7,276.3L844.6,261.4Z" fill="#d62728" opacity="0.8"/>
<path d="M851.1,229.5L860.2,244.4L851.1,259.3L842.0,244.4Z" fill="#d62728" opacity="0.8"/>
<path d="M866.8,231.8L875.9,246.7L866.8,261.6L857.7,246.7Z" fill="#d62728" opacity="0.8"/>
<path d="M862.6,238.2L871.7,253.1L862.6,268.0L853.5,253.1Z" fill="#d62728" opacity="0.8"/>
<path d="M851.5,253.8L860.6,268.7L851.5,283.6L842.4,268.7Z" fill="#d62728" opacity="0.8"/>
<path d="M866.3,241.5L875.4,256.4L866.3,271.3L857.2,256.4Z" fill="#d62728" opacity="0.8"/>
<path d="M861.0,226.4L870.1,241.3L861.0,256.2L851.9,241.3Z" fill="#d62728" opacity="0.8"/>
<path d="M860.4,219.3L869.5,234.2L860.4,249.1L851.3,234.2Z" fill="#d62728" opacity="0.8"/>
<path d="M865.4,210.5L874.5,225.4L865.4,240.3L856.3,225.4Z" fill="#d62728" opacity="0.8"/>
<path d="M863.1,206.0L872.2,220.9L863.1,235.8L854.0,220.9Z" fill="#d62728" opacity="0.8"/>
<path d="M864.1,216.5L873.2,231.4L864.1,246.3L855.0,231.4Z" fill="#d62728" opacity="0.8"/>
<path d="M864.3,263.6L873.4,278.5L864.3,293.4L855.2,278.5Z" fill="#d62728" opacity="0.8"/>
<path d="M857.1,230.8L866.2,245.7L857.1,260.6L848.0,245.7Z" fill="#d62728" opacity="0.8"/>
<path d="M863.0,232.1L872.1,247.0L863.0,261.9L853.9,247.0Z" fill="#d62728" opacity="0.8"/>
<path d="M863.2,214.4L872.3,229.3L863.2,244.2L854.1,229.3Z" fill="#d62728" opacity="0.8"/>
<path d="M864.5,253.4L873.6,268.3L864.5,283.2L855.4,268.3Z" fill="#d62728" opacity="0.8"/>
<path d="M863.7,202.3L872.8,217.2L863.7,232.1L854.6,217.2Z" fill="#d62728" opacity="0.8"/>
<path d="M850.6,200.7L859.7,215.6L850.6,230.5L841.5,215.6Z" fill="#d62728" opacity="0.8"/>
<path d="M860.1,256.2L869.2,271.1L860.1,286.0L851.0,271.1Z" fill="#d62728" opacity="0.8"/>
<path d="M861.9,220.9L871.0,235.8L861.9,250.7L852.8,235.8Z" fill="#d62728" opacity="0.8"/>
<path d="M853.2,219.7L862.3,234.6L853.2,249.5L844.1,234.6Z" fill="#d62728" opacity="0.8"/>
<path d="M857.5,220.7L866.6,235.6L857.5,250.5L848.4,235.6Z" fill="#d62728" opacity="0.8"/>
<path d="M857.8,204.3L866.9,219.2L857.8,234.1L848.7,219.2Z" fill="#d62728" opacity="0.8"/>
<path d="M866.6,270.6L875.7,285.5L866.6,300.4L857.5,285.5Z" fill="#d62728" opacity="0.8"/>
<path d="M854.7,234.5L863.8,249.4L854.7,264.3L845.6,249.4Z" fill="#d62728" opacity="0.8"/>
<path d="M862.0,271.4L871.1,286.3L862.0,301.2L852.9,286.3Z" fill="#d62728" opacity="0.8"/>
<path d="M853.5,215.8L862.6,230.7L853.5,245.6L844.4,230.7Z" fill="#d62728" opacity="0.8"/>
<path d="M864.5,250.7L873.6,265.6L864.5,280.5L855.4,265.6Z" fill="#d62728" opacity="0.8"/>
<path d="M858.0,228.3L867.1,243.2L858.0,258.1L848.9,243.2Z" fill="#d62728" opacity="0.8"/>
<path d="M853.5,245.1L862.6,260.0L853.5,274.9L844.4,260.0Z" fill="#d62728" opacity="0.8"/>
<path d="M863.5,214.6L872.6,229.5L863.5,244.4L854.4,229.5Z" fill="#d62728" opacity="0.8"/>
<path d="M864.3,216.5L873.4,231.4L864.3,246.3L855.2,231.4Z" fill="#d62728" opacity="0.8"/>
<path d="M862.0,227.4L871.1,242.3L862.0,257.2L852.9,242.3Z" fill="#d62728" opacity="0.8"/>
<path d="M857.3,273.5L866.4,288.4L857.3,303.3L848.2,288.4Z" fill="#d62728" opacity="0.8"/>
<path d="M858.7,269.7L867.8,284.6L858.7,299.5L849.6,284.6Z" fill="#d62728" opacity="0.8"/>
<path d="M854.8,273.4L863.9,288.3L854.8,303.2L845.7,288.3Z" fill="#d62728" opacity="0.8"/>
<path d="M856.3,270.0L865.4,284.9L856.3,299.8L847.2,284.9Z" fill="#d62728" opacity="0.8"/>
<path d="M857.9,267.8L867.0,282.7L857.9,297.6L848.8,282.7Z" fill="#d62728" opacity="0.8"/>
<path d="M854.7,274.2L863.8,289.1L854.7,304.0L845.6,289.1Z" fill="#d62728" opacity="0.8"/>
<path d="M892.1,246.5L901.2,261.4L892.1,276.3L883.0,261.4Z" fill="#d62728" opacity="0.8"/>
<path d="M891.3,258.6L900.4,273.5L891.3,288.4L882.2,273.5Z" fill="#d62728" opacity="0.8"/>
<path d="M892.0,255.5L901.1,270.4L892.0,285.3L882.9,270.4Z" fill="#d62728" opacity="0.8"/>
<path d="M889.5,245.2L898.6,260.1L889.5,275.0L880.4,260.1Z" fill="#d62728" opacity="0.8"/>
<path d="M889.5,242.9L898.6,257.8L889.5,272.7L880.4,257.8Z" fill="#d62728" opacity="0.8"/>
<path d="M887.1,242.8L896.2,257.7L887.1,272.6L878.0,257.7Z" fill="#d62728" opacity="0.8"/>
<path d="M893.7,245.8L902.8,260.7L893.7,275.6L884.6,260.7Z" fill="#d62728" opacity="0.8"/>
<path d="M887.3,243.8L896.4,258.7L887.3,273.6L878.2,258.7Z" fill="#d62728" opacity="0.8"/>
<path d="M891.0,309.4L900.1,324.3L891.0,339.2L881.9,324.3Z" fill="#d62728" opacity="0.8"/>
<path d="M895.8,300.9L904.9,315.8L895.8,330.7L886.7,315.8Z" fill="#d62728" opacity="0.8"/>
<path d="M889.0,266.8L898.1,281.7L889.0,296.6L879.9,281.7Z" fill="#d62728" opacity="0.8"/>
<path d="M886.6,310.4L895.7,325.3L886.6,340.2L877.5,325.3Z" fill="#d62728" opacity="0.8"/>
<path d="M893.9,298.3L903.0,313.2L893.9,328.1L884.8,313.2Z" fill="#d62728" opacity="0.8"/>
<path d="M893.1,308.7L902.2,323.6L893.1,338.5L884.0,323.6Z" fill="#d62728" opacity="0.8"/>
<path d="M899.1,330.3L908.2,345.2L899.1,360.1L890.0,345.2Z" fill="#d62728" opacity="0.8"/>
<path d="M887.7,269.2L896.8,284.1L887.7,299.0L878.6,284.1Z" fill="#d62728" opacity="0.8"/>
<path d="M896.3,257.1L905.4,272.0L896.3,286.9L887.2,272.0Z" fill="#d62728" opacity="0.8"/>
<path d="M893.1,275.1L902.2,290.0L893.1,304.9L884.0,290.0Z" fill="#d62728" opacity="0.8"/>
<path d="M898.0,295.8L907.1,310.7L898.0,325.6L888.9,310.7Z" fill="#d62728" opacity="0.8"/>
<path d="M892.8,339.8L901.9,354.7L892.8,369.6L883.7,354.7Z" fill="#d62728" opacity="0.8"/>
<path d="M893.6,275.9L902.7,290.8L893.6,305.7L884.5,290.8Z" fill="#d62728" opacity="0.8"/>
<path d="M895.6,313.0L904.7,327.9L895.6,342.8L886.5,327.9Z" fill="#d62728" opacity="0.8"/>
<path d="M885.5,286.8L894.6,301.7L885.5,316.6L876.4,301.7Z" fill="#d62728" opacity="0.8"/>
<path d="M891.1,317.2L900.2,332.1L891.1,347.0L882.0,332.1Z" fill="#d62728" opacity="0.8"/>
<path d="M897.3,297.2L906.4,312.1L897.3,327.0L888.2,312.1Z" fill="#d62728" opacity="0.8"/>
<path d="M888.9,267.4L898.0,282.3L888.9,297.2L879.8,282.3Z" fill="#d62728" opacity="0.8"/>
<path d="M887.9,311.0L897.0,325.9L887.9,340.8L878.8,325.9Z" fill="#d62728" opacity="0.8"/>
<path d="M893.9,290.7L903.0,305.6L893.9,320.5L884.8,305.6Z" fill="#d62728" opacity="0.8"/>
<path d="M897.9,296.6L907.0,311.5L897.9,326.4L888.8,311.5Z" fill="#d62728" opacity="0.8"/>
<path d="M885.5,290.7L894.6,305.6L885.5,320.5L876.4,305.6Z" fill="#d62728" opacity="0.8"/>
<path d="M890.3,257.1L899.4,272.0L890.3,286.9L881.2,272.0Z" fill="#d62728" opacity="0.8"/>
<path d="M897.2,319.4L906.3,334.3L897.2,349.2L888.1,334.3Z" fill="#d62728" opacity="0.8"/>
<path d="M895.7,311.1L904.8,326.0L895.7,340.9L886.6,326.0Z" fill="#d62728" opacity="0.8"/>
<path d="M893.1,292.0L902.2,306.9L893.1,321.8L884.0,306.9Z" fill="#d62728" opacity="0.8"/>
<path d="M889.7,347.9L898.8,362.8L889.7,377.7L880.6,362.8Z" fill="#d62728" opacity="0.8"/>
<path d="M895.2,308.5L904.3,323.4L895.2,338.3L886.1,323.4Z" fill="#d62728" opacity="0.8"/>
<path d="M895.5,337.0L904.6,351.9L895.5,366.8L886.4,351.9Z" fill="#d62728" opacity="0.8"/>
<path d="M898.3,299.7L907.4,314.6L898.3,329.5L889.2,314.6Z" fill="#d62728" opacity="0.8"/>
<path d="M893.9,270.3L903.0,285.2L893.9,300.1L884.8,285.2Z" fill="#d62728" opacity="0.8"/>
<path d="M896.5,289.4L905.6,304.3L896.5,319.2L887.4,304.3Z" fill="#d62728" opacity="0.8"/>
<path d="M888.9,315.2L898.0,330.1L888.9,345.0L879.8,330.1Z" fill="#d62728" opacity="0.8"/>
<path d="M888.8,327.1L897.9,342.0L888.8,356.9L879.7,342.0Z" fill="#d62728" opacity="0.8"/>
<path d="M890.4,283.7L899.5,298.6L890.4,313.5L881.3,298.6Z" fill="#d62728" opacity="0.8"/>
<path d="M897.4,288.4L906.5,303.3L897.4,318.2L888.3,303.3Z" fill="#d62728" opacity="0.8"/>
<path d="M891.0,283.4L900.1,298.3L891.0,313.2L881.9,298.3Z" fill="#d62728" opacity="0.8"/>
<path d="M896.7,324.6L905.8,339.5L896.7,354.4L887.6,339.5Z" fill="#d62728" opacity="0.8"/>
<path d="M897.8,331.2L906.9,346.1L897.8,361.0L888.7,346.1Z" fill="#d62728" opacity="0.8"/>
<path d="M891.9,305.5L901.0,320.4L891.9,335.3L882.8,320.4Z" fill="#d62728" opacity="0.8"/>
<path d="M885.0,301.3L894.1,316.2L885.0,331.1L875.9,316.2Z" fill="#d62728" opacity="0.8"/>
<path d="M891.3,314.2L900.4,329.1L891.3,344.0L882.2,329.1Z" fill="#d62728" opacity="0.8"/>
<path d="M887.8,271.9L896.9,286.8L887.8,301.7L878.7,286.8Z" fill="#d62728" opacity="0.8"/>
<path d="M886.2,300.9L895.3,315.8L886.2,330.7L877.1,315.8Z" fill="#d62728" opacity="0.8"/>
<path d="M898.1,296.6L907.2,311.5L898.1,326.4L889.0,311.5Z" fill="#d62728" opacity="0.8"/>
<path d="M888.6,296.0L897.7,310.9L888.6,325.8L879.5,310.9Z" fill="#d62728" opacity="0.8"/>
<path d="M892.8,303.5L901.9,318.4L892.8,333.3L883.7,318.4Z" fill="#d62728" opacity="0.8"/>
<path d="M886.8,299.1L895.9,314.0L886.8,328.9L877.7,314.0Z" fill="#d62728" opacity="0.8"/>
<path d="M885.8,280.9L894.9,295.8L885.8,310.7L876.7,295.8Z" fill="#d62728" opacity="0.8"/>
<path d="M886.7,325.5L895.8,340.4L886.7,355.3L877.6,340.4Z" fill="#d62728" opacity="0.8"/>
<path d="M893.0,347.1L902.1,362.0L893.0,376.9L883.9,362.0Z" fill="#d62728" opacity="0.8"/>
<path d="M896.5,351.1L905.6,366.0L896.5,380.9L887.4,366.0Z" fill="#d62728" opacity="0.8"/>
<path d="M890.0,345.1L899.1,360.0L890.0,374.9L880.9,360.0Z" fill="#d62728" opacity="0.8"/>
<path d="M897.0,362.1L906.1,377.0L897.0,391.9L887.9,377.0Z" fill="#d62728" opacity="0.8"/>
<path d="M894.5,342.1L903.6,357.0L894.5,371.9L885.4,357.0Z" fill="#d62728" opacity="0.8"/>
<path d="M915.0,335.1L924.1,350.0L915.0,364.9L905.9,350.0Z" fill="#d62728" opacity="0.8"/>
<path d="M926.5,336.1L935.6,351.0L926.5,365.9L917.4,351.0Z" fill="#d62728" opacity="0.8"/>
<path d="M919.4,347.2L928.5,362.1L919.4,377.0L910.3,362.1Z" fill="#d62728" opacity="0.8"/>
<path d="M920.3,333.9L929.4,348.8L920.3,363.7L911.2,348.8Z" fill="#d62728" opacity="0.8"/>
<path d="M917.6,340.8L926.7,355.7L917.6,370.6L908.5,355.7Z" fill="#d62728" opacity="0.8"/>
<path d="M917.6,354.3L926.7,369.2L917.6,384.1L908.5,369.2Z" fill="#d62728" opacity="0.8"/>
<path d="M922.1,326.5L931.2,341.4L922.1,356.3L913.0,341.4Z" fill="#d62728" opacity="0.8"/>
<path d="M919.3,396.1L928.4,411.0L919.3,425.9L910.2,411.0Z" fill="#d62728" opacity="0.8"/>
<path d="M923.5,366.8L932.6,381.7L923.5,396.6L914.4,381.7Z" fill="#d62728" opacity="0.8"/>
<path d="M920.4,385.5L929.5,400.4L920.4,415.3L911.3,400.4Z" fill="#d62728" opacity="0.8"/>
<path d="M920.1,361.1L929.2,376.0L920.1,390.9L911.0,376.0Z" fill="#d62728" opacity="0.8"/>
<path d="M923.9,405.4L933.0,420.3L923.9,435.2L914.8,420.3Z" fill="#d62728" opacity="0.8"/>
<path d="M922.7,365.2L931.8,380.1L922.7,395.0L913.6,380.1Z" fill="#d62728" opacity="0.8"/>
<path d="M917.1,383.2L926.2,398.1L917.1,413.0L908.0,398.1Z" fill="#d62728" opacity="0.8"/>
<path d="M920.2,394.8L929.3,409.7L920.2,424.6L911.1,409.7Z" fill="#d62728" opacity="0.8"/>
<path d="M918.2,388.6L927.3,403.5L918.2,418.4L909.1,403.5Z" fill="#d62728" opacity="0.8"/>
<path d="M917.4,382.6L926.5,397.5L917.4,412.4L908.3,397.5Z" fill="#d62728" opacity="0.8"/>
<path d="M920.3,389.7L929.4,404.6L920.3,419.5L911.2,404.6Z" fill="#d62728" opacity="0.8"/>
<path d="M919.0,408.4L928.1,423.3L919.0,438.2L909.9,423.3Z" fill="#d62728" opacity="0.8"/>
<path d="M922.3,410.0L931.4,424.9L922.3,439.8L913.2,424.9Z" fill="#d62728" opacity="0.8"/>
<path d="M922.3,386.1L931.4,401.0L922.3,415.9L913.2,401.0Z" fill="#d62728" opacity="0.8"/>
<path d="M923.4,388.9L932.5,403.8L923.4,418.7L914.3,403.8Z" fill="#d62728" opacity="0.8"/>
<path d="M919.0,421.1L928.1,436.0L919.0,450.9L909.9,436.0Z" fill="#d62728" opacity="0.8"/>
<path d="M921.5,418.1L930.6,433.0L921.5,447.9L912.4,433.0Z" fill="#d62728" opacity="0.8"/>
<path d="M918.0,423.1L927.1,438.0L918.0,452.9L908.9,438.0Z" fill="#d62728" opacity="0.8"/>
<path d="M922.0,416.1L931.1,431.0L922.0,445.9L912.9,431.0Z" fill="#d62728" opacity="0.8"/>
<path d="M920.0,422.1L929.1,437.0L920.0,451.9L910.9,437.0Z" fill="#d62728" opacity="0.8"/>
<path d="M949.3,403.5L958.4,418.4L949.3,433.3L940.2,418.4Z" fill="#d62728" opacity="0.8"/>
<path d="M950.3,390.4L959.4,405.3L950.3,420.2L941.2,405.3Z" fill="#d62728" opacity="0.8"/>
<path d="M950.6,377.5L959.7,392.4L950.6,407.3L941.5,392.4Z" fill="#d62728" opacity="0.8"/>
<path d="M951.4,376.9L960.5,391.8L951.4,406.7L942.3,391.8Z" fill="#d62728" opacity="0.8"/>
<path d="M951.2,376.8L960.3,391.7L951.2,406.6L942.1,391.7Z" fill="#d62728" opacity="0.8"/>
<path d="M962.5,356.5L971.6,371.4L962.5,386.3L953.4,371.4Z" fill="#d62728" opacity="0.8"/>
<path d="M964.3,353.0L973.4,367.9L964.3,382.8L955.2,367.9Z" fill="#d62728" opacity="0.8"/>
<path d="M963.2,355.0L972.3,369.9L963.2,384.8L954.1,369.9Z" fill="#d62728" opacity="0.8"/>
<path d="M963.7,383.8L972.8,398.7L963.7,413.6L954.6,398.7Z" fill="#d62728" opacity="0.8"/>
<path d="M962.0,408.9L971.1,423.8L962.0,438.7L952.9,423.8Z" fill="#d62728" opacity="0.8"/>
<path d="M963.8,374.9L972.9,389.8L963.8,404.7L954.7,389.8Z" fill="#d62728" opacity="0.8"/>
<path d="M952.4,417.1L961.5,432.0L952.4,446.9L943.3,432.0Z" fill="#d62728" opacity="0.8"/>
<path d="M962.5,357.1L971.6,372.0L962.5,386.9L953.4,372.0Z" fill="#d62728" opacity="0.8"/>
<path d="M958.0,405.1L967.1,420.0L958.0,434.9L948.9,420.0Z" fill="#d62728" opacity="0.8"/>
<path d="M818.4,153.5V180.7" stroke="#d62728" stroke-width="2.35" opacity="0.8"/><path d="M807.1,153.5h22.6M807.1,180.7h22.6" stroke="#d62728" stroke-width="2.35" opacity="0.8"/>
<path d="M818.4,176.1V207.7" stroke="#d62728" stroke-width="2.35" opacity="0.8"/><path d="M807.1,176.1h22.6M807.1,207.7h22.6" stroke="#d62728" stroke-width="2.35" opacity="0.8"/>
<path d="M833.7,145.3V232.1" stroke="#d62728" stroke-width="2.35" opacity="0.8"/><path d="M822.4,145.3h22.6M822.4,232.1h22.6" stroke="#d62728" stroke-width="2.35" opacity="0.8"/>
<path d="M833.7,174.5V231.5" stroke="#d62728" stroke-width="2.35" opacity="0.8"/><path d="M822.4,174.5h22.6M822.4,231.5h22.6" stroke="#d62728" stroke-width="2.35" opacity="0.8"/>
<path d="M862.6,130.6V155.2" stroke="#d62728" stroke-width="2.35" opacity="0.8"/><path d="M851.3,130.6h22.6M851.3,155.2h22.6" stroke="#d62728" stroke-width="2.35" opacity="0.8"/>
<path d="M862.6,154.5V179.3" stroke="#d62728" stroke-width="2.35" opacity="0.8"/><path d="M851.3,154.5h22.6M851.3,179.3h22.6" stroke="#d62728" stroke-width="2.35" opacity="0.8"/>
<path d="M855.8,193.0V214.4" stroke="#d62728" stroke-width="2.35" opacity="0.8"/><path d="M844.5,193.0h22.6M844.5,214.4h22.6" stroke="#d62728" stroke-width="2.35" opacity="0.8"/>
<path d="M887.6,224.2V259.8" stroke="#d62728" stroke-width="2.35" opacity="0.8"/><path d="M876.3,224.2h22.6M876.3,259.8h22.6" stroke="#d62728" stroke-width="2.35" opacity="0.8"/>
<path d="M891.0,233.0V267.0" stroke="#d62728" stroke-width="2.35" opacity="0.8"/><path d="M879.7,233.0h22.6M879.7,267.0h22.6" stroke="#d62728" stroke-width="2.35" opacity="0.8"/>
<path d="M919.4,294.0V342.0" stroke="#d62728" stroke-width="2.35" opacity="0.8"/><path d="M908.1,294.0h22.6M908.1,342.0h22.6" stroke="#d62728" stroke-width="2.35" opacity="0.8"/>
<path d="M926.5,321.5V354.5" stroke="#d62728" stroke-width="2.35" opacity="0.8"/><path d="M915.2,321.5h22.6M915.2,354.5h22.6" stroke="#d62728" stroke-width="2.35" opacity="0.8"/>
<path d="M920.0,311.5V358.5" stroke="#d62728" stroke-width="2.35" opacity="0.8"/><path d="M908.7,311.5h22.6M908.7,358.5h22.6" stroke="#d62728" stroke-width="2.35" opacity="0.8"/>
<path d="M817.6,222.4V248.4" stroke="#d62728" stroke-width="2.35" opacity="0.8"/><path d="M806.3,222.4h22.6M806.3,248.4h22.6" stroke="#d62728" stroke-width="2.35" opacity="0.8"/>
<path d="M821.2,226.2V252.7" stroke="#d62728" stroke-width="2.35" opacity="0.8"/><path d="M809.9,226.2h22.6M809.9,252.7h22.6" stroke="#d62728" stroke-width="2.35" opacity="0.8"/>
<path d="M829.4,239.3V263.0" stroke="#d62728" stroke-width="2.35" opacity="0.8"/><path d="M818.1,239.3h22.6M818.1,263.0h22.6" stroke="#d62728" stroke-width="2.35" opacity="0.8"/>
<path d="M818.8,263.3V285.8" stroke="#d62728" stroke-width="2.35" opacity="0.8"/><path d="M807.5,263.3h22.6M807.5,285.8h22.6" stroke="#d62728" stroke-width="2.35" opacity="0.8"/>
<path d="M829.7,242.0V262.3" stroke="#d62728" stroke-width="2.35" opacity="0.8"/><path d="M818.4,242.0h22.6M818.4,262.3h22.6" stroke="#d62728" stroke-width="2.35" opacity="0.8"/>
<path d="M818.3,253.5V274.1" stroke="#d62728" stroke-width="2.35" opacity="0.8"/><path d="M807.0,253.5h22.6M807.0,274.1h22.6" stroke="#d62728" stroke-width="2.35" opacity="0.8"/>
<path d="M819.6,247.5V273.3" stroke="#d62728" stroke-width="2.35" opacity="0.8"/><path d="M808.3,247.5h22.6M808.3,273.3h22.6" stroke="#d62728" stroke-width="2.35" opacity="0.8"/>
<path d="M831.2,237.3V260.3" stroke="#d62728" stroke-width="2.35" opacity="0.8"/><path d="M819.9,237.3h22.6M819.9,260.3h22.6" stroke="#d62728" stroke-width="2.35" opacity="0.8"/>
<path d="M826.4,225.7V249.8" stroke="#d62728" stroke-width="2.35" opacity="0.8"/><path d="M815.1,225.7h22.6M815.1,249.8h22.6" stroke="#d62728" stroke-width="2.35" opacity="0.8"/>
<path d="M823.7,242.9V261.7" stroke="#d62728" stroke-width="2.35" opacity="0.8"/><path d="M812.4,242.9h22.6M812.4,261.7h22.6" stroke="#d62728" stroke-width="2.35" opacity="0.8"/>
<path d="M818.9,232.6V260.3" stroke="#d62728" stroke-width="2.35" opacity="0.8"/><path d="M807.6,232.6h22.6M807.6,260.3h22.6" stroke="#d62728" stroke-width="2.35" opacity="0.8"/>
<path d="M826.9,216.2V235.9" stroke="#d62728" stroke-width="2.35" opacity="0.8"/><path d="M815.6,216.2h22.6M815.6,235.9h22.6" stroke="#d62728" stroke-width="2.35" opacity="0.8"/>
<path d="M826.8,205.2V222.7" stroke="#d62728" stroke-width="2.35" opacity="0.8"/><path d="M815.5,205.2h22.6M815.5,222.7h22.6" stroke="#d62728" stroke-width="2.35" opacity="0.8"/>
<path d="M830.7,259.3V286.2" stroke="#d62728" stroke-width="2.35" opacity="0.8"/><path d="M819.4,259.3h22.6M819.4,286.2h22.6" stroke="#d62728" stroke-width="2.35" opacity="0.8"/>
<path d="M819.5,234.2V252.5" stroke="#d62728" stroke-width="2.35" opacity="0.8"/><path d="M808.2,234.2h22.6M808.2,252.5h22.6" stroke="#d62728" stroke-width="2.35" opacity="0.8"/>
<path d="M825.2,233.2V251.3" stroke="#d62728" stroke-width="2.35" opacity="0.8"/><path d="M813.9,233.2h22.6M813.9,251.3h22.6" stroke="#d62728" stroke-width="2.35" opacity="0.8"/>
<path d="M826.5,236.4V259.2" stroke="#d62728" stroke-width="2.35" opacity="0.8"/><path d="M815.2,236.4h22.6M815.2,259.2h22.6" stroke="#d62728" stroke-width="2.35" opacity="0.8"/>
<path d="M823.3,240.4V259.2" stroke="#d62728" stroke-width="2.35" opacity="0.8"/><path d="M812.0,240.4h22.6M812.0,259.2h22.6" stroke="#d62728" stroke-width="2.35" opacity="0.8"/>
<path d="M829.8,251.0V272.6" stroke="#d62728" stroke-width="2.35" opacity="0.8"/><path d="M818.5,251.0h22.6M818.5,272.6h22.6" stroke="#d62728" stroke-width="2.35" opacity="0.8"/>
<path d="M822.0,231.3V256.4" stroke="#d62728" stroke-width="2.35" opacity="0.8"/><path d="M810.7,231.3h22.6M810.7,256.4h22.6" stroke="#d62728" stroke-width="2.35" opacity="0.8"/>
<path d="M822.7,252.4V268.7" stroke="#d62728" stroke-width="2.35" opacity="0.8"/><path d="M811.4,252.4h22.6M811.4,268.7h22.6" stroke="#d62728" stroke-width="2.35" opacity="0.8"/>
<path d="M831.0,207.5V231.4" stroke="#d62728" stroke-width="2.35" opacity="0.8"/><path d="M819.7,207.5h22.6M819.7,231.4h22.6" stroke="#d62728" stroke-width="2.35" opacity="0.8"/>
<path d="M824.8,220.5V247.0" stroke="#d62728" stroke-width="2.35" opacity="0.8"/><path d="M813.5,220.5h22.6M813.5,247.0h22.6" stroke="#d62728" stroke-width="2.35" opacity="0.8"/>
<path d="M825.8,222.8V247.1" stroke="#d62728" stroke-width="2.35" opacity="0.8"/><path d="M814.5,222.8h22.6M814.5,247.1h22.6" stroke="#d62728" stroke-width="2.35" opacity="0.8"/>
<path d="M824.8,246.3V271.5" stroke="#d62728" stroke-width="2.35" opacity="0.8"/><path d="M813.5,246.3h22.6M813.5,271.5h22.6" stroke="#d62728" stroke-width="2.35" opacity="0.8"/>
<path d="M819.6,249.1V276.3" stroke="#d62728" stroke-width="2.35" opacity="0.8"/><path d="M808.3,249.1h22.6M808.3,276.3h22.6" stroke="#d62728" stroke-width="2.35" opacity="0.8"/>
<path d="M828.0,235.7V261.4" stroke="#d62728" stroke-width="2.35" opacity="0.8"/><path d="M816.7,235.7h22.6M816.7,261.4h22.6" stroke="#d62728" stroke-width="2.35" opacity="0.8"/>
<path d="M823.4,241.8V267.6" stroke="#d62728" stroke-width="2.35" opacity="0.8"/><path d="M812.1,241.8h22.6M812.1,267.6h22.6" stroke="#d62728" stroke-width="2.35" opacity="0.8"/>
<path d="M826.3,240.7V266.2" stroke="#d62728" stroke-width="2.35" opacity="0.8"/><path d="M815.0,240.7h22.6M815.0,266.2h22.6" stroke="#d62728" stroke-width="2.35" opacity="0.8"/>
<path d="M827.7,238.5V257.2" stroke="#d62728" stroke-width="2.35" opacity="0.8"/><path d="M816.4,238.5h22.6M816.4,257.2h22.6" stroke="#d62728" stroke-width="2.35" opacity="0.8"/>
<path d="M822.6,247.5V265.6" stroke="#d62728" stroke-width="2.35" opacity="0.8"/><path d="M811.3,247.5h22.6M811.3,265.6h22.6" stroke="#d62728" stroke-width="2.35" opacity="0.8"/>
<path d="M830.8,207.0V229.8" stroke="#d62728" stroke-width="2.35" opacity="0.8"/><path d="M819.5,207.0h22.6M819.5,229.8h22.6" stroke="#d62728" stroke-width="2.35" opacity="0.8"/>
<path d="M821.3,250.4V277.8" stroke="#d62728" stroke-width="2.35" opacity="0.8"/><path d="M810.0,250.4h22.6M810.0,277.8h22.6" stroke="#d62728" stroke-width="2.35" opacity="0.8"/>
<path d="M831.2,261.5V283.7" stroke="#d62728" stroke-width="2.35" opacity="0.8"/><path d="M819.9,261.5h22.6M819.9,283.7h22.6" stroke="#d62728" stroke-width="2.35" opacity="0.8"/>
<path d="M830.1,232.6V257.5" stroke="#d62728" stroke-width="2.35" opacity="0.8"/><path d="M818.8,232.6h22.6M818.8,257.5h22.6" stroke="#d62728" stroke-width="2.35" opacity="0.8"/>
<path d="M823.5,256.6V283.1" stroke="#d62728" stroke-width="2.35" opacity="0.8"/><path d="M812.2,256.6h22.6M812.2,283.1h22.6" stroke="#d62728" stroke-width="2.35" opacity="0.8"/>
<path d="M830.4,227.2V244.1" stroke="#d62728" stroke-width="2.35" opacity="0.8"/><path d="M819.1,227.2h22.6M819.1,244.1h22.6" stroke="#d62728" stroke-width="2.35" opacity="0.8"/>
<path d="M824.8,259.0V286.5" stroke="#d62728" stroke-width="2.35" opacity="0.8"/><path d="M813.5,259.0h22.6M813.5,286.5h22.6" stroke="#d62728" stroke-width="2.35" opacity="0.8"/>
<path d="M828.8,238.2V262.3" stroke="#d62728" stroke-width="2.35" opacity="0.8"/><path d="M817.5,238.2h22.6M817.5,262.3h22.6" stroke="#d62728" stroke-width="2.35" opacity="0.8"/>
<path d="M826.3,226.0V253.7" stroke="#d62728" stroke-width="2.35" opacity="0.8"/><path d="M815.0,226.0h22.6M815.0,253.7h22.6" stroke="#d62728" stroke-width="2.35" opacity="0.8"/>
<path d="M823.1,234.0V252.4" stroke="#d62728" stroke-width="2.35" opacity="0.8"/><path d="M811.8,234.0h22.6M811.8,252.4h22.6" stroke="#d62728" stroke-width="2.35" opacity="0.8"/>
<path d="M820.5,221.9V248.9" stroke="#d62728" stroke-width="2.35" opacity="0.8"/><path d="M809.2,221.9h22.6M809.2,248.9h22.6" stroke="#d62728" stroke-width="2.35" opacity="0.8"/>
<path d="M819.1,219.3V242.5" stroke="#d62728" stroke-width="2.35" opacity="0.8"/><path d="M807.8,219.3h22.6M807.8,242.5h22.6" stroke="#d62728" stroke-width="2.35" opacity="0.8"/>
<path d="M825.8,263.5V287.4" stroke="#d62728" stroke-width="2.35" opacity="0.8"/><path d="M814.5,263.5h22.6M814.5,287.4h22.6" stroke="#d62728" stroke-width="2.35" opacity="0.8"/>
<path d="M831.0,227.8V249.4" stroke="#d62728" stroke-width="2.35" opacity="0.8"/><path d="M819.7,227.8h22.6M819.7,249.4h22.6" stroke="#d62728" stroke-width="2.35" opacity="0.8"/>
<path d="M826.4,240.5V258.7" stroke="#d62728" stroke-width="2.35" opacity="0.8"/><path d="M815.1,240.5h22.6M815.1,258.7h22.6" stroke="#d62728" stroke-width="2.35" opacity="0.8"/>
<path d="M823.3,245.6V270.8" stroke="#d62728" stroke-width="2.35" opacity="0.8"/><path d="M812.0,245.6h22.6M812.0,270.8h22.6" stroke="#d62728" stroke-width="2.35" opacity="0.8"/>
<path d="M827.7,221.3V238.6" stroke="#d62728" stroke-width="2.35" opacity="0.8"/><path d="M816.4,221.3h22.6M816.4,238.6h22.6" stroke="#d62728" stroke-width="2.35" opacity="0.8"/>
<path d="M828.7,227.6V254.1" stroke="#d62728" stroke-width="2.35" opacity="0.8"/><path d="M817.4,227.6h22.6M817.4,254.1h22.6" stroke="#d62728" stroke-width="2.35" opacity="0.8"/>
<path d="M830.3,233.7V250.3" stroke="#d62728" stroke-width="2.35" opacity="0.8"/><path d="M819.0,233.7h22.6M819.0,250.3h22.6" stroke="#d62728" stroke-width="2.35" opacity="0.8"/>
<path d="M817.8,235.0V254.1" stroke="#d62728" stroke-width="2.35" opacity="0.8"/><path d="M806.5,235.0h22.6M806.5,254.1h22.6" stroke="#d62728" stroke-width="2.35" opacity="0.8"/>
<path d="M820.1,259.9V282.7" stroke="#d62728" stroke-width="2.35" opacity="0.8"/><path d="M808.8,259.9h22.6M808.8,282.7h22.6" stroke="#d62728" stroke-width="2.35" opacity="0.8"/>
<path d="M825.8,230.8V248.8" stroke="#d62728" stroke-width="2.35" opacity="0.8"/><path d="M814.5,230.8h22.6M814.5,248.8h22.6" stroke="#d62728" stroke-width="2.35" opacity="0.8"/>
<path d="M817.8,257.6V277.4" stroke="#d62728" stroke-width="2.35" opacity="0.8"/><path d="M806.5,257.6h22.6M806.5,277.4h22.6" stroke="#d62728" stroke-width="2.35" opacity="0.8"/>
<path d="M825.0,251.3V277.0" stroke="#d62728" stroke-width="2.35" opacity="0.8"/><path d="M813.7,251.3h22.6M813.7,277.0h22.6" stroke="#d62728" stroke-width="2.35" opacity="0.8"/>
<path d="M826.1,232.6V250.9" stroke="#d62728" stroke-width="2.35" opacity="0.8"/><path d="M814.8,232.6h22.6M814.8,250.9h22.6" stroke="#d62728" stroke-width="2.35" opacity="0.8"/>
<path d="M818.1,252.8V278.4" stroke="#d62728" stroke-width="2.35" opacity="0.8"/><path d="M806.8,252.8h22.6M806.8,278.4h22.6" stroke="#d62728" stroke-width="2.35" opacity="0.8"/>
<path d="M829.5,275.7V292.3" stroke="#d62728" stroke-width="2.35" opacity="0.8"/><path d="M818.2,275.7h22.6M818.2,292.3h22.6" stroke="#d62728" stroke-width="2.35" opacity="0.8"/>
<path d="M822.0,210.8V228.1" stroke="#d62728" stroke-width="2.35" opacity="0.8"/><path d="M810.7,210.8h22.6M810.7,228.1h22.6" stroke="#d62728" stroke-width="2.35" opacity="0.8"/>
<path d="M828.7,239.9V259.7" stroke="#d62728" stroke-width="2.35" opacity="0.8"/><path d="M817.4,239.9h22.6M817.4,259.7h22.6" stroke="#d62728" stroke-width="2.35" opacity="0.8"/>
<path d="M828.7,203.2V220.8" stroke="#d62728" stroke-width="2.35" opacity="0.8"/><path d="M817.4,203.2h22.6M817.4,220.8h22.6" stroke="#d62728" stroke-width="2.35" opacity="0.8"/>
<path d="M829.9,236.4V254.7" stroke="#d62728" stroke-width="2.35" opacity="0.8"/><path d="M818.6,236.4h22.6M818.6,254.7h22.6" stroke="#d62728" stroke-width="2.35" opacity="0.8"/>
<path d="M826.4,211.0V234.3" stroke="#d62728" stroke-width="2.35" opacity="0.8"/><path d="M815.1,211.0h22.6M815.1,234.3h22.6" stroke="#d62728" stroke-width="2.35" opacity="0.8"/>
<path d="M826.8,208.5V232.1" stroke="#d62728" stroke-width="2.35" opacity="0.8"/><path d="M815.5,208.5h22.6M815.5,232.1h22.6" stroke="#d62728" stroke-width="2.35" opacity="0.8"/>
<path d="M828.7,247.4V267.3" stroke="#d62728" stroke-width="2.35" opacity="0.8"/><path d="M817.4,247.4h22.6M817.4,267.3h22.6" stroke="#d62728" stroke-width="2.35" opacity="0.8"/>
<path d="M829.6,218.6V245.3" stroke="#d62728" stroke-width="2.35" opacity="0.8"/><path d="M818.3,218.6h22.6M818.3,245.3h22.6" stroke="#d62728" stroke-width="2.35" opacity="0.8"/>
<path d="M817.9,223.9V247.7" stroke="#d62728" stroke-width="2.35" opacity="0.8"/><path d="M806.6,223.9h22.6M806.6,247.7h22.6" stroke="#d62728" stroke-width="2.35" opacity="0.8"/>
<path d="M825.4,273.0V300.3" stroke="#d62728" stroke-width="2.35" opacity="0.8"/><path d="M814.1,273.0h22.6M814.1,300.3h22.6" stroke="#d62728" stroke-width="2.35" opacity="0.8"/>
<path d="M821.0,237.6V259.1" stroke="#d62728" stroke-width="2.35" opacity="0.8"/><path d="M809.7,237.6h22.6M809.7,259.1h22.6" stroke="#d62728" stroke-width="2.35" opacity="0.8"/>
<path d="M818.9,231.4V252.0" stroke="#d62728" stroke-width="2.35" opacity="0.8"/><path d="M807.6,231.4h22.6M807.6,252.0h22.6" stroke="#d62728" stroke-width="2.35" opacity="0.8"/>
<path d="M826.8,238.5V264.5" stroke="#d62728" stroke-width="2.35" opacity="0.8"/><path d="M815.5,238.5h22.6M815.5,264.5h22.6" stroke="#d62728" stroke-width="2.35" opacity="0.8"/>
<path d="M822.7,238.4V260.8" stroke="#d62728" stroke-width="2.35" opacity="0.8"/><path d="M811.4,238.4h22.6M811.4,260.8h22.6" stroke="#d62728" stroke-width="2.35" opacity="0.8"/>
<path d="M821.5,269.4V295.3" stroke="#d62728" stroke-width="2.35" opacity="0.8"/><path d="M810.2,269.4h22.6M810.2,295.3h22.6" stroke="#d62728" stroke-width="2.35" opacity="0.8"/>
<path d="M819.8,267.0V303.1" stroke="#d62728" stroke-width="2.35" opacity="0.8"/><path d="M808.5,267.0h22.6M808.5,303.1h22.6" stroke="#d62728" stroke-width="2.35" opacity="0.8"/>
<path d="M822.0,276.4V296.3" stroke="#d62728" stroke-width="2.35" opacity="0.8"/><path d="M810.7,276.4h22.6M810.7,296.3h22.6" stroke="#d62728" stroke-width="2.35" opacity="0.8"/>
<path d="M820.3,277.8V299.0" stroke="#d62728" stroke-width="2.35" opacity="0.8"/><path d="M809.0,277.8h22.6M809.0,299.0h22.6" stroke="#d62728" stroke-width="2.35" opacity="0.8"/>
<path d="M819.8,261.6V301.3" stroke="#d62728" stroke-width="2.35" opacity="0.8"/><path d="M808.5,261.6h22.6M808.5,301.3h22.6" stroke="#d62728" stroke-width="2.35" opacity="0.8"/>
<path d="M822.1,264.0V302.0" stroke="#d62728" stroke-width="2.35" opacity="0.8"/><path d="M810.8,264.0h22.6M810.8,302.0h22.6" stroke="#d62728" stroke-width="2.35" opacity="0.8"/>
<path d="M853.3,226.4V247.6" stroke="#d62728" stroke-width="2.35" opacity="0.8"/><path d="M842.0,226.4h22.6M842.0,247.6h22.6" stroke="#d62728" stroke-width="2.35" opacity="0.8"/>
<path d="M856.6,235.1V259.6" stroke="#d62728" stroke-width="2.35" opacity="0.8"/><path d="M845.3,235.1h22.6M845.3,259.6h22.6" stroke="#d62728" stroke-width="2.35" opacity="0.8"/>
<path d="M862.7,270.1V295.5" stroke="#d62728" stroke-width="2.35" opacity="0.8"/><path d="M851.4,270.1h22.6M851.4,295.5h22.6" stroke="#d62728" stroke-width="2.35" opacity="0.8"/>
<path d="M861.8,254.5V274.9" stroke="#d62728" stroke-width="2.35" opacity="0.8"/><path d="M850.5,254.5h22.6M850.5,274.9h22.6" stroke="#d62728" stroke-width="2.35" opacity="0.8"/>
<path d="M859.1,242.2V267.3" stroke="#d62728" stroke-width="2.35" opacity="0.8"/><path d="M847.8,242.2h22.6M847.8,267.3h22.6" stroke="#d62728" stroke-width="2.35" opacity="0.8"/>
<path d="M854.7,218.3V240.7" stroke="#d62728" stroke-width="2.35" opacity="0.8"/><path d="M843.4,218.3h22.6M843.4,240.7h22.6" stroke="#d62728" stroke-width="2.35" opacity="0.8"/>
<path d="M865.7,263.9V281.4" stroke="#d62728" stroke-width="2.35" opacity="0.8"/><path d="M854.4,263.9h22.6M854.4,281.4h22.6" stroke="#d62728" stroke-width="2.35" opacity="0.8"/>
<path d="M864.0,267.3V291.0" stroke="#d62728" stroke-width="2.35" opacity="0.8"/><path d="M852.7,267.3h22.6M852.7,291.0h22.6" stroke="#d62728" stroke-width="2.35" opacity="0.8"/>
<path d="M867.4,201.8V229.0" stroke="#d62728" stroke-width="2.35" opacity="0.8"/><path d="M856.1,201.8h22.6M856.1,229.0h22.6" stroke="#d62728" stroke-width="2.35" opacity="0.8"/>
<path d="M863.6,257.1V277.8" stroke="#d62728" stroke-width="2.35" opacity="0.8"/><path d="M852.3,257.1h22.6M852.3,277.8h22.6" stroke="#d62728" stroke-width="2.35" opacity="0.8"/>
<path d="M853.2,241.5V266.7" stroke="#d62728" stroke-width="2.35" opacity="0.8"/><path d="M841.9,241.5h22.6M841.9,266.7h22.6" stroke="#d62728" stroke-width="2.35" opacity="0.8"/>
<path d="M862.6,240.4V261.7" stroke="#d62728" stroke-width="2.35" opacity="0.8"/><path d="M851.3,240.4h22.6M851.3,261.7h22.6" stroke="#d62728" stroke-width="2.35" opacity="0.8"/>
<path d="M857.3,240.7V257.1" stroke="#d62728" stroke-width="2.35" opacity="0.8"/><path d="M846.0,240.7h22.6M846.0,257.1h22.6" stroke="#d62728" stroke-width="2.35" opacity="0.8"/>
<path d="M859.5,270.2V290.9" stroke="#d62728" stroke-width="2.35" opacity="0.8"/><path d="M848.2,270.2h22.6M848.2,290.9h22.6" stroke="#d62728" stroke-width="2.35" opacity="0.8"/>
<path d="M862.6,233.1V253.7" stroke="#d62728" stroke-width="2.35" opacity="0.8"/><path d="M851.3,233.1h22.6M851.3,253.7h22.6" stroke="#d62728" stroke-width="2.35" opacity="0.8"/>
<path d="M866.1,256.3V277.0" stroke="#d62728" stroke-width="2.35" opacity="0.8"/><path d="M854.8,256.3h22.6M854.8,277.0h22.6" stroke="#d62728" stroke-width="2.35" opacity="0.8"/>
<path d="M863.3,231.8V259.7" stroke="#d62728" stroke-width="2.35" opacity="0.8"/><path d="M852.0,231.8h22.6M852.0,259.7h22.6" stroke="#d62728" stroke-width="2.35" opacity="0.8"/>
<path d="M862.5,232.6V258.5" stroke="#d62728" stroke-width="2.35" opacity="0.8"/><path d="M851.2,232.6h22.6M851.2,258.5h22.6" stroke="#d62728" stroke-width="2.35" opacity="0.8"/>
<path d="M852.2,226.8V243.9" stroke="#d62728" stroke-width="2.35" opacity="0.8"/><path d="M840.9,226.8h22.6M840.9,243.9h22.6" stroke="#d62728" stroke-width="2.35" opacity="0.8"/>
<path d="M852.0,270.0V288.1" stroke="#d62728" stroke-width="2.35" opacity="0.8"/><path d="M840.7,270.0h22.6M840.7,288.1h22.6" stroke="#d62728" stroke-width="2.35" opacity="0.8"/>
<path d="M857.8,226.0V251.0" stroke="#d62728" stroke-width="2.35" opacity="0.8"/><path d="M846.5,226.0h22.6M846.5,251.0h22.6" stroke="#d62728" stroke-width="2.35" opacity="0.8"/>
<path d="M866.0,221.8V240.4" stroke="#d62728" stroke-width="2.35" opacity="0.8"/><path d="M854.7,221.8h22.6M854.7,240.4h22.6" stroke="#d62728" stroke-width="2.35" opacity="0.8"/>
<path d="M851.2,234.2V255.9" stroke="#d62728" stroke-width="2.35" opacity="0.8"/><path d="M839.9,234.2h22.6M839.9,255.9h22.6" stroke="#d62728" stroke-width="2.35" opacity="0.8"/>
<path d="M855.5,246.2V266.0" stroke="#d62728" stroke-width="2.35" opacity="0.8"/><path d="M844.2,246.2h22.6M844.2,266.0h22.6" stroke="#d62728" stroke-width="2.35" opacity="0.8"/>
<path d="M858.0,266.0V282.7" stroke="#d62728" stroke-width="2.35" opacity="0.8"/><path d="M846.7,266.0h22.6M846.7,282.7h22.6" stroke="#d62728" stroke-width="2.35" opacity="0.8"/>
<path d="M865.6,265.5V292.5" stroke="#d62728" stroke-width="2.35" opacity="0.8"/><path d="M854.3,265.5h22.6M854.3,292.5h22.6" stroke="#d62728" stroke-width="2.35" opacity="0.8"/>
<path d="M856.9,277.8V296.5" stroke="#d62728" stroke-width="2.35" opacity="0.8"/><path d="M845.6,277.8h22.6M845.6,296.5h22.6" stroke="#d62728" stroke-width="2.35" opacity="0.8"/>
<path d="M858.8,215.5V233.0" stroke="#d62728" stroke-width="2.35" opacity="0.8"/><path d="M847.5,215.5h22.6M847.5,233.0h22.6" stroke="#d62728" stroke-width="2.35" opacity="0.8"/>
<path d="M865.1,257.4V279.2" stroke="#d62728" stroke-width="2.35" opacity="0.8"/><path d="M853.8,257.4h22.6M853.8,279.2h22.6" stroke="#d62728" stroke-width="2.35" opacity="0.8"/>
<path d="M861.7,230.8V250.0" stroke="#d62728" stroke-width="2.35" opacity="0.8"/><path d="M850.4,230.8h22.6M850.4,250.0h22.6" stroke="#d62728" stroke-width="2.35" opacity="0.8"/>
<path d="M855.0,243.0V265.2" stroke="#d62728" stroke-width="2.35" opacity="0.8"/><path d="M843.7,243.0h22.6M843.7,265.2h22.6" stroke="#d62728" stroke-width="2.35" opacity="0.8"/>
<path d="M859.4,238.9V259.6" stroke="#d62728" stroke-width="2.35" opacity="0.8"/><path d="M848.1,238.9h22.6M848.1,259.6h22.6" stroke="#d62728" stroke-width="2.35" opacity="0.8"/>
<path d="M865.3,250.5V268.7" stroke="#d62728" stroke-width="2.35" opacity="0.8"/><path d="M854.0,250.5h22.6M854.0,268.7h22.6" stroke="#d62728" stroke-width="2.35" opacity="0.8"/>
<path d="M852.0,237.2V264.9" stroke="#d62728" stroke-width="2.35" opacity="0.8"/><path d="M840.7,237.2h22.6M840.7,264.9h22.6" stroke="#d62728" stroke-width="2.35" opacity="0.8"/>
<path d="M854.0,199.1V226.7" stroke="#d62728" stroke-width="2.35" opacity="0.8"/><path d="M842.7,199.1h22.6M842.7,226.7h22.6" stroke="#d62728" stroke-width="2.35" opacity="0.8"/>
<path d="M858.9,252.5V274.4" stroke="#d62728" stroke-width="2.35" opacity="0.8"/><path d="M847.6,252.5h22.6M847.6,274.4h22.6" stroke="#d62728" stroke-width="2.35" opacity="0.8"/>
<path d="M850.7,233.0V252.8" stroke="#d62728" stroke-width="2.35" opacity="0.8"/><path d="M839.4,233.0h22.6M839.4,252.8h22.6" stroke="#d62728" stroke-width="2.35" opacity="0.8"/>
<path d="M851.2,280.6V299.4" stroke="#d62728" stroke-width="2.35" opacity="0.8"/><path d="M839.9,280.6h22.6M839.9,299.4h22.6" stroke="#d62728" stroke-width="2.35" opacity="0.8"/>
<path d="M865.4,215.1V240.3" stroke="#d62728" stroke-width="2.35" opacity="0.8"/><path d="M854.1,215.1h22.6M854.1,240.3h22.6" stroke="#d62728" stroke-width="2.35" opacity="0.8"/>
<path d="M863.3,215.8V240.3" stroke="#d62728" stroke-width="2.35" opacity="0.8"/><path d="M852.0,215.8h22.6M852.0,240.3h22.6" stroke="#d62728" stroke-width="2.35" opacity="0.8"/>
<path d="M861.9,258.8V283.6" stroke="#d62728" stroke-width="2.35" opacity="0.8"/><path d="M850.6,258.8h22.6M850.6,283.6h22.6" stroke="#d62728" stroke-width="2.35" opacity="0.8"/>
<path d="M852.9,228.4V253.5" stroke="#d62728" stroke-width="2.35" opacity="0.8"/><path d="M841.6,228.4h22.6M841.6,253.5h22.6" stroke="#d62728" stroke-width="2.35" opacity="0.8"/>
<path d="M866.1,231.0V254.2" stroke="#d62728" stroke-width="2.35" opacity="0.8"/><path d="M854.8,231.0h22.6M854.8,254.2h22.6" stroke="#d62728" stroke-width="2.35" opacity="0.8"/>
<path d="M866.4,213.6V231.4" stroke="#d62728" stroke-width="2.35" opacity="0.8"/><path d="M855.1,213.6h22.6M855.1,231.4h22.6" stroke="#d62728" stroke-width="2.35" opacity="0.8"/>
<path d="M851.6,240.3V267.9" stroke="#d62728" stroke-width="2.35" opacity="0.8"/><path d="M840.3,240.3h22.6M840.3,267.9h22.6" stroke="#d62728" stroke-width="2.35" opacity="0.8"/>
<path d="M864.1,225.4V244.8" stroke="#d62728" stroke-width="2.35" opacity="0.8"/><path d="M852.8,225.4h22.6M852.8,244.8h22.6" stroke="#d62728" stroke-width="2.35" opacity="0.8"/>
<path d="M862.3,231.0V254.7" stroke="#d62728" stroke-width="2.35" opacity="0.8"/><path d="M851.0,231.0h22.6M851.0,254.7h22.6" stroke="#d62728" stroke-width="2.35" opacity="0.8"/>
<path d="M857.6,216.4V237.4" stroke="#d62728" stroke-width="2.35" opacity="0.8"/><path d="M846.3,216.4h22.6M846.3,237.4h22.6" stroke="#d62728" stroke-width="2.35" opacity="0.8"/>
<path d="M864.6,248.8V268.8" stroke="#d62728" stroke-width="2.35" opacity="0.8"/><path d="M853.3,248.8h22.6M853.3,268.8h22.6" stroke="#d62728" stroke-width="2.35" opacity="0.8"/>
<path d="M853.7,250.1V272.7" stroke="#d62728" stroke-width="2.35" opacity="0.8"/><path d="M842.4,250.1h22.6M842.4,272.7h22.6" stroke="#d62728" stroke-width="2.35" opacity="0.8"/>
<path d="M851.1,232.0V256.7" stroke="#d62728" stroke-width="2.35" opacity="0.8"/><path d="M839.8,232.0h22.6M839.8,256.7h22.6" stroke="#d62728" stroke-width="2.35" opacity="0.8"/>
<path d="M866.8,235.8V257.5" stroke="#d62728" stroke-width="2.35" opacity="0.8"/><path d="M855.5,235.8h22.6M855.5,257.5h22.6" stroke="#d62728" stroke-width="2.35" opacity="0.8"/>
<path d="M862.6,242.0V264.3" stroke="#d62728" stroke-width="2.35" opacity="0.8"/><path d="M851.3,242.0h22.6M851.3,264.3h22.6" stroke="#d62728" stroke-width="2.35" opacity="0.8"/>
<path d="M851.5,257.4V280.1" stroke="#d62728" stroke-width="2.35" opacity="0.8"/><path d="M840.2,257.4h22.6M840.2,280.1h22.6" stroke="#d62728" stroke-width="2.35" opacity="0.8"/>
<path d="M866.3,248.2V264.7" stroke="#d62728" stroke-width="2.35" opacity="0.8"/><path d="M855.0,248.2h22.6M855.0,264.7h22.6" stroke="#d62728" stroke-width="2.35" opacity="0.8"/>
<path d="M861.0,230.0V252.6" stroke="#d62728" stroke-width="2.35" opacity="0.8"/><path d="M849.7,230.0h22.6M849.7,252.6h22.6" stroke="#d62728" stroke-width="2.35" opacity="0.8"/>
<path d="M860.4,224.9V243.6" stroke="#d62728" stroke-width="2.35" opacity="0.8"/><path d="M849.1,224.9h22.6M849.1,243.6h22.6" stroke="#d62728" stroke-width="2.35" opacity="0.8"/>
<path d="M865.4,216.3V234.6" stroke="#d62728" stroke-width="2.35" opacity="0.8"/><path d="M854.1,216.3h22.6M854.1,234.6h22.6" stroke="#d62728" stroke-width="2.35" opacity="0.8"/>
<path d="M863.1,208.6V233.1" stroke="#d62728" stroke-width="2.35" opacity="0.8"/><path d="M851.8,208.6h22.6M851.8,233.1h22.6" stroke="#d62728" stroke-width="2.35" opacity="0.8"/>
<path d="M864.1,220.6V242.2" stroke="#d62728" stroke-width="2.35" opacity="0.8"/><path d="M852.8,220.6h22.6M852.8,242.2h22.6" stroke="#d62728" stroke-width="2.35" opacity="0.8"/>
<path d="M864.3,266.5V290.6" stroke="#d62728" stroke-width="2.35" opacity="0.8"/><path d="M853.0,266.5h22.6M853.0,290.6h22.6" stroke="#d62728" stroke-width="2.35" opacity="0.8"/>
<path d="M857.1,234.3V257.0" stroke="#d62728" stroke-width="2.35" opacity="0.8"/><path d="M845.8,234.3h22.6M845.8,257.0h22.6" stroke="#d62728" stroke-width="2.35" opacity="0.8"/>
<path d="M863.0,236.8V257.3" stroke="#d62728" stroke-width="2.35" opacity="0.8"/><path d="M851.7,236.8h22.6M851.7,257.3h22.6" stroke="#d62728" stroke-width="2.35" opacity="0.8"/>
<path d="M863.2,218.3V240.3" stroke="#d62728" stroke-width="2.35" opacity="0.8"/><path d="M851.9,218.3h22.6M851.9,240.3h22.6" stroke="#d62728" stroke-width="2.35" opacity="0.8"/>
<path d="M864.5,258.0V278.5" stroke="#d62728" stroke-width="2.35" opacity="0.8"/><path d="M853.2,258.0h22.6M853.2,278.5h22.6" stroke="#d62728" stroke-width="2.35" opacity="0.8"/>
<path d="M863.7,206.5V227.9" stroke="#d62728" stroke-width="2.35" opacity="0.8"/><path d="M852.4,206.5h22.6M852.4,227.9h22.6" stroke="#d62728" stroke-width="2.35" opacity="0.8"/>
<path d="M850.6,205.3V225.9" stroke="#d62728" stroke-width="2.35" opacity="0.8"/><path d="M839.3,205.3h22.6M839.3,225.9h22.6" stroke="#d62728" stroke-width="2.35" opacity="0.8"/>
<path d="M860.1,259.7V282.4" stroke="#d62728" stroke-width="2.35" opacity="0.8"/><path d="M848.8,259.7h22.6M848.8,282.4h22.6" stroke="#d62728" stroke-width="2.35" opacity="0.8"/>
<path d="M861.9,224.3V247.3" stroke="#d62728" stroke-width="2.35" opacity="0.8"/><path d="M850.6,224.3h22.6M850.6,247.3h22.6" stroke="#d62728" stroke-width="2.35" opacity="0.8"/>
<path d="M853.2,224.9V244.4" stroke="#d62728" stroke-width="2.35" opacity="0.8"/><path d="M841.9,224.9h22.6M841.9,244.4h22.6" stroke="#d62728" stroke-width="2.35" opacity="0.8"/>
<path d="M857.5,221.6V249.6" stroke="#d62728" stroke-width="2.35" opacity="0.8"/><path d="M846.2,221.6h22.6M846.2,249.6h22.6" stroke="#d62728" stroke-width="2.35" opacity="0.8"/>
<path d="M857.8,209.0V229.4" stroke="#d62728" stroke-width="2.35" opacity="0.8"/><path d="M846.5,209.0h22.6M846.5,229.4h22.6" stroke="#d62728" stroke-width="2.35" opacity="0.8"/>
<path d="M866.6,272.1V298.8" stroke="#d62728" stroke-width="2.35" opacity="0.8"/><path d="M855.3,272.1h22.6M855.3,298.8h22.6" stroke="#d62728" stroke-width="2.35" opacity="0.8"/>
<path d="M854.7,236.1V262.7" stroke="#d62728" stroke-width="2.35" opacity="0.8"/><path d="M843.4,236.1h22.6M843.4,262.7h22.6" stroke="#d62728" stroke-width="2.35" opacity="0.8"/>
<path d="M862.0,277.9V294.8" stroke="#d62728" stroke-width="2.35" opacity="0.8"/><path d="M850.7,277.9h22.6M850.7,294.8h22.6" stroke="#d62728" stroke-width="2.35" opacity="0.8"/>
<path d="M853.5,220.2V241.2" stroke="#d62728" stroke-width="2.35" opacity="0.8"/><path d="M842.2,220.2h22.6M842.2,241.2h22.6" stroke="#d62728" stroke-width="2.35" opacity="0.8"/>
<path d="M864.5,254.8V276.5" stroke="#d62728" stroke-width="2.35" opacity="0.8"/><path d="M853.2,254.8h22.6M853.2,276.5h22.6" stroke="#d62728" stroke-width="2.35" opacity="0.8"/>
<path d="M858.0,233.0V253.5" stroke="#d62728" stroke-width="2.35" opacity="0.8"/><path d="M846.7,233.0h22.6M846.7,253.5h22.6" stroke="#d62728" stroke-width="2.35" opacity="0.8"/>
<path d="M853.5,250.1V269.9" stroke="#d62728" stroke-width="2.35" opacity="0.8"/><path d="M842.2,250.1h22.6M842.2,269.9h22.6" stroke="#d62728" stroke-width="2.35" opacity="0.8"/>
<path d="M863.5,221.1V237.8" stroke="#d62728" stroke-width="2.35" opacity="0.8"/><path d="M852.2,221.1h22.6M852.2,237.8h22.6" stroke="#d62728" stroke-width="2.35" opacity="0.8"/>
<path d="M864.3,220.7V242.1" stroke="#d62728" stroke-width="2.35" opacity="0.8"/><path d="M853.0,220.7h22.6M853.0,242.1h22.6" stroke="#d62728" stroke-width="2.35" opacity="0.8"/>
<path d="M862.0,232.9V251.8" stroke="#d62728" stroke-width="2.35" opacity="0.8"/><path d="M850.7,232.9h22.6M850.7,251.8h22.6" stroke="#d62728" stroke-width="2.35" opacity="0.8"/>
<path d="M857.3,271.8V305.1" stroke="#d62728" stroke-width="2.35" opacity="0.8"/><path d="M846.0,271.8h22.6M846.0,305.1h22.6" stroke="#d62728" stroke-width="2.35" opacity="0.8"/>
<path d="M858.7,269.3V299.9" stroke="#d62728" stroke-width="2.35" opacity="0.8"/><path d="M847.4,269.3h22.6M847.4,299.9h22.6" stroke="#d62728" stroke-width="2.35" opacity="0.8"/>
<path d="M854.8,267.8V308.9" stroke="#d62728" stroke-width="2.35" opacity="0.8"/><path d="M843.5,267.8h22.6M843.5,308.9h22.6" stroke="#d62728" stroke-width="2.35" opacity="0.8"/>
<path d="M856.3,272.8V297.0" stroke="#d62728" stroke-width="2.35" opacity="0.8"/><path d="M845.0,272.8h22.6M845.0,297.0h22.6" stroke="#d62728" stroke-width="2.35" opacity="0.8"/>
<path d="M857.9,264.4V300.9" stroke="#d62728" stroke-width="2.35" opacity="0.8"/><path d="M846.6,264.4h22.6M846.6,300.9h22.6" stroke="#d62728" stroke-width="2.35" opacity="0.8"/>
<path d="M854.7,278.5V299.7" stroke="#d62728" stroke-width="2.35" opacity="0.8"/><path d="M843.4,278.5h22.6M843.4,299.7h22.6" stroke="#d62728" stroke-width="2.35" opacity="0.8"/>
<path d="M892.1,250.5V272.4" stroke="#d62728" stroke-width="2.35" opacity="0.8"/><path d="M880.8,250.5h22.6M880.8,272.4h22.6" stroke="#d62728" stroke-width="2.35" opacity="0.8"/>
<path d="M891.3,261.7V285.2" stroke="#d62728" stroke-width="2.35" opacity="0.8"/><path d="M880.0,261.7h22.6M880.0,285.2h22.6" stroke="#d62728" stroke-width="2.35" opacity="0.8"/>
<path d="M892.0,260.3V280.4" stroke="#d62728" stroke-width="2.35" opacity="0.8"/><path d="M880.7,260.3h22.6M880.7,280.4h22.6" stroke="#d62728" stroke-width="2.35" opacity="0.8"/>
<path d="M889.5,249.2V271.1" stroke="#d62728" stroke-width="2.35" opacity="0.8"/><path d="M878.2,249.2h22.6M878.2,271.1h22.6" stroke="#d62728" stroke-width="2.35" opacity="0.8"/>
<path d="M889.5,246.0V269.7" stroke="#d62728" stroke-width="2.35" opacity="0.8"/><path d="M878.2,246.0h22.6M878.2,269.7h22.6" stroke="#d62728" stroke-width="2.35" opacity="0.8"/>
<path d="M887.1,248.7V266.8" stroke="#d62728" stroke-width="2.35" opacity="0.8"/><path d="M875.8,248.7h22.6M875.8,266.8h22.6" stroke="#d62728" stroke-width="2.35" opacity="0.8"/>
<path d="M893.7,252.5V268.8" stroke="#d62728" stroke-width="2.35" opacity="0.8"/><path d="M882.4,252.5h22.6M882.4,268.8h22.6" stroke="#d62728" stroke-width="2.35" opacity="0.8"/>
<path d="M887.3,247.8V269.5" stroke="#d62728" stroke-width="2.35" opacity="0.8"/><path d="M876.0,247.8h22.6M876.0,269.5h22.6" stroke="#d62728" stroke-width="2.35" opacity="0.8"/>
<path d="M891.0,315.3V333.3" stroke="#d62728" stroke-width="2.35" opacity="0.8"/><path d="M879.7,315.3h22.6M879.7,333.3h22.6" stroke="#d62728" stroke-width="2.35" opacity="0.8"/>
<path d="M895.8,306.7V324.9" stroke="#d62728" stroke-width="2.35" opacity="0.8"/><path d="M884.5,306.7h22.6M884.5,324.9h22.6" stroke="#d62728" stroke-width="2.35" opacity="0.8"/>
<path d="M889.0,271.2V292.3" stroke="#d62728" stroke-width="2.35" opacity="0.8"/><path d="M877.7,271.2h22.6M877.7,292.3h22.6" stroke="#d62728" stroke-width="2.35" opacity="0.8"/>
<path d="M886.6,311.8V338.9" stroke="#d62728" stroke-width="2.35" opacity="0.8"/><path d="M875.3,311.8h22.6M875.3,338.9h22.6" stroke="#d62728" stroke-width="2.35" opacity="0.8"/>
<path d="M893.9,304.9V321.5" stroke="#d62728" stroke-width="2.35" opacity="0.8"/><path d="M882.6,304.9h22.6M882.6,321.5h22.6" stroke="#d62728" stroke-width="2.35" opacity="0.8"/>
<path d="M893.1,311.0V336.3" stroke="#d62728" stroke-width="2.35" opacity="0.8"/><path d="M881.8,311.0h22.6M881.8,336.3h22.6" stroke="#d62728" stroke-width="2.35" opacity="0.8"/>
<path d="M899.1,331.9V358.5" stroke="#d62728" stroke-width="2.35" opacity="0.8"/><path d="M887.8,331.9h22.6M887.8,358.5h22.6" stroke="#d62728" stroke-width="2.35" opacity="0.8"/>
<path d="M887.7,275.9V292.3" stroke="#d62728" stroke-width="2.35" opacity="0.8"/><path d="M876.4,275.9h22.6M876.4,292.3h22.6" stroke="#d62728" stroke-width="2.35" opacity="0.8"/>
<path d="M896.3,258.1V285.9" stroke="#d62728" stroke-width="2.35" opacity="0.8"/><path d="M885.0,258.1h22.6M885.0,285.9h22.6" stroke="#d62728" stroke-width="2.35" opacity="0.8"/>
<path d="M893.1,277.9V302.1" stroke="#d62728" stroke-width="2.35" opacity="0.8"/><path d="M881.8,277.9h22.6M881.8,302.1h22.6" stroke="#d62728" stroke-width="2.35" opacity="0.8"/>
<path d="M898.0,299.1V322.3" stroke="#d62728" stroke-width="2.35" opacity="0.8"/><path d="M886.7,299.1h22.6M886.7,322.3h22.6" stroke="#d62728" stroke-width="2.35" opacity="0.8"/>
<path d="M892.8,346.6V362.8" stroke="#d62728" stroke-width="2.35" opacity="0.8"/><path d="M881.5,346.6h22.6M881.5,362.8h22.6" stroke="#d62728" stroke-width="2.35" opacity="0.8"/>
<path d="M893.6,280.3V301.3" stroke="#d62728" stroke-width="2.35" opacity="0.8"/><path d="M882.3,280.3h22.6M882.3,301.3h22.6" stroke="#d62728" stroke-width="2.35" opacity="0.8"/>
<path d="M895.6,317.8V337.9" stroke="#d62728" stroke-width="2.35" opacity="0.8"/><path d="M884.3,317.8h22.6M884.3,337.9h22.6" stroke="#d62728" stroke-width="2.35" opacity="0.8"/>
<path d="M885.5,292.6V310.8" stroke="#d62728" stroke-width="2.35" opacity="0.8"/><path d="M874.2,292.6h22.6M874.2,310.8h22.6" stroke="#d62728" stroke-width="2.35" opacity="0.8"/>
<path d="M891.1,318.5V345.6" stroke="#d62728" stroke-width="2.35" opacity="0.8"/><path d="M879.8,318.5h22.6M879.8,345.6h22.6" stroke="#d62728" stroke-width="2.35" opacity="0.8"/>
<path d="M897.3,300.0V324.2" stroke="#d62728" stroke-width="2.35" opacity="0.8"/><path d="M886.0,300.0h22.6M886.0,324.2h22.6" stroke="#d62728" stroke-width="2.35" opacity="0.8"/>
<path d="M888.9,274.3V290.3" stroke="#d62728" stroke-width="2.35" opacity="0.8"/><path d="M877.6,274.3h22.6M877.6,290.3h22.6" stroke="#d62728" stroke-width="2.35" opacity="0.8"/>
<path d="M887.9,317.0V334.8" stroke="#d62728" stroke-width="2.35" opacity="0.8"/><path d="M876.6,317.0h22.6M876.6,334.8h22.6" stroke="#d62728" stroke-width="2.35" opacity="0.8"/>
<path d="M893.9,296.3V314.8" stroke="#d62728" stroke-width="2.35" opacity="0.8"/><path d="M882.6,296.3h22.6M882.6,314.8h22.6" stroke="#d62728" stroke-width="2.35" opacity="0.8"/>
<path d="M897.9,301.9V321.1" stroke="#d62728" stroke-width="2.35" opacity="0.8"/><path d="M886.6,301.9h22.6M886.6,321.1h22.6" stroke="#d62728" stroke-width="2.35" opacity="0.8"/>
<path d="M885.5,292.7V318.4" stroke="#d62728" stroke-width="2.35" opacity="0.8"/><path d="M874.2,292.7h22.6M874.2,318.4h22.6" stroke="#d62728" stroke-width="2.35" opacity="0.8"/>
<path d="M890.3,263.8V280.2" stroke="#d62728" stroke-width="2.35" opacity="0.8"/><path d="M879.0,263.8h22.6M879.0,280.2h22.6" stroke="#d62728" stroke-width="2.35" opacity="0.8"/>
<path d="M897.2,325.8V342.8" stroke="#d62728" stroke-width="2.35" opacity="0.8"/><path d="M885.9,325.8h22.6M885.9,342.8h22.6" stroke="#d62728" stroke-width="2.35" opacity="0.8"/>
<path d="M895.7,314.3V337.6" stroke="#d62728" stroke-width="2.35" opacity="0.8"/><path d="M884.4,314.3h22.6M884.4,337.6h22.6" stroke="#d62728" stroke-width="2.35" opacity="0.8"/>
<path d="M893.1,296.2V317.7" stroke="#d62728" stroke-width="2.35" opacity="0.8"/><path d="M881.8,296.2h22.6M881.8,317.7h22.6" stroke="#d62728" stroke-width="2.35" opacity="0.8"/>
<path d="M889.7,350.3V375.4" stroke="#d62728" stroke-width="2.35" opacity="0.8"/><path d="M878.4,350.3h22.6M878.4,375.4h22.6" stroke="#d62728" stroke-width="2.35" opacity="0.8"/>
<path d="M895.2,313.2V333.7" stroke="#d62728" stroke-width="2.35" opacity="0.8"/><path d="M883.9,313.2h22.6M883.9,333.7h22.6" stroke="#d62728" stroke-width="2.35" opacity="0.8"/>
<path d="M895.5,341.6V362.2" stroke="#d62728" stroke-width="2.35" opacity="0.8"/><path d="M884.2,341.6h22.6M884.2,362.2h22.6" stroke="#d62728" stroke-width="2.35" opacity="0.8"/>
<path d="M898.3,302.3V326.8" stroke="#d62728" stroke-width="2.35" opacity="0.8"/><path d="M887.0,302.3h22.6M887.0,326.8h22.6" stroke="#d62728" stroke-width="2.35" opacity="0.8"/>
<path d="M893.9,275.5V294.9" stroke="#d62728" stroke-width="2.35" opacity="0.8"/><path d="M882.6,275.5h22.6M882.6,294.9h22.6" stroke="#d62728" stroke-width="2.35" opacity="0.8"/>
<path d="M896.5,293.6V314.9" stroke="#d62728" stroke-width="2.35" opacity="0.8"/><path d="M885.2,293.6h22.6M885.2,314.9h22.6" stroke="#d62728" stroke-width="2.35" opacity="0.8"/>
<path d="M888.9,321.6V338.5" stroke="#d62728" stroke-width="2.35" opacity="0.8"/><path d="M877.6,321.6h22.6M877.6,338.5h22.6" stroke="#d62728" stroke-width="2.35" opacity="0.8"/>
<path d="M888.8,333.0V351.1" stroke="#d62728" stroke-width="2.35" opacity="0.8"/><path d="M877.5,333.0h22.6M877.5,351.1h22.6" stroke="#d62728" stroke-width="2.35" opacity="0.8"/>
<path d="M890.4,289.3V307.9" stroke="#d62728" stroke-width="2.35" opacity="0.8"/><path d="M879.1,289.3h22.6M879.1,307.9h22.6" stroke="#d62728" stroke-width="2.35" opacity="0.8"/>
<path d="M897.4,293.6V312.9" stroke="#d62728" stroke-width="2.35" opacity="0.8"/><path d="M886.1,293.6h22.6M886.1,312.9h22.6" stroke="#d62728" stroke-width="2.35" opacity="0.8"/>
<path d="M891.0,289.9V306.8" stroke="#d62728" stroke-width="2.35" opacity="0.8"/><path d="M879.7,289.9h22.6M879.7,306.8h22.6" stroke="#d62728" stroke-width="2.35" opacity="0.8"/>
<path d="M896.7,331.1V347.9" stroke="#d62728" stroke-width="2.35" opacity="0.8"/><path d="M885.4,331.1h22.6M885.4,347.9h22.6" stroke="#d62728" stroke-width="2.35" opacity="0.8"/>
<path d="M897.8,332.9V359.3" stroke="#d62728" stroke-width="2.35" opacity="0.8"/><path d="M886.5,332.9h22.6M886.5,359.3h22.6" stroke="#d62728" stroke-width="2.35" opacity="0.8"/>
<path d="M891.9,310.2V330.6" stroke="#d62728" stroke-width="2.35" opacity="0.8"/><path d="M880.6,310.2h22.6M880.6,330.6h22.6" stroke="#d62728" stroke-width="2.35" opacity="0.8"/>
<path d="M885.0,306.6V325.8" stroke="#d62728" stroke-width="2.35" opacity="0.8"/><path d="M873.7,306.6h22.6M873.7,325.8h22.6" stroke="#d62728" stroke-width="2.35" opacity="0.8"/>
<path d="M891.3,318.4V339.8" stroke="#d62728" stroke-width="2.35" opacity="0.8"/><path d="M880.0,318.4h22.6M880.0,339.8h22.6" stroke="#d62728" stroke-width="2.35" opacity="0.8"/>
<path d="M887.8,278.6V295.1" stroke="#d62728" stroke-width="2.35" opacity="0.8"/><path d="M876.5,278.6h22.6M876.5,295.1h22.6" stroke="#d62728" stroke-width="2.35" opacity="0.8"/>
<path d="M886.2,307.3V324.3" stroke="#d62728" stroke-width="2.35" opacity="0.8"/><path d="M874.9,307.3h22.6M874.9,324.3h22.6" stroke="#d62728" stroke-width="2.35" opacity="0.8"/>
<path d="M898.1,300.0V323.0" stroke="#d62728" stroke-width="2.35" opacity="0.8"/><path d="M886.8,300.0h22.6M886.8,323.0h22.6" stroke="#d62728" stroke-width="2.35" opacity="0.8"/>
<path d="M888.6,299.5V322.3" stroke="#d62728" stroke-width="2.35" opacity="0.8"/><path d="M877.3,299.5h22.6M877.3,322.3h22.6" stroke="#d62728" stroke-width="2.35" opacity="0.8"/>
<path d="M892.8,305.6V331.2" stroke="#d62728" stroke-width="2.35" opacity="0.8"/><path d="M881.5,305.6h22.6M881.5,331.2h22.6" stroke="#d62728" stroke-width="2.35" opacity="0.8"/>
<path d="M886.8,302.5V325.5" stroke="#d62728" stroke-width="2.35" opacity="0.8"/><path d="M875.5,302.5h22.6M875.5,325.5h22.6" stroke="#d62728" stroke-width="2.35" opacity="0.8"/>
<path d="M885.8,284.1V307.5" stroke="#d62728" stroke-width="2.35" opacity="0.8"/><path d="M874.5,284.1h22.6M874.5,307.5h22.6" stroke="#d62728" stroke-width="2.35" opacity="0.8"/>
<path d="M886.7,329.1V351.7" stroke="#d62728" stroke-width="2.35" opacity="0.8"/><path d="M875.4,329.1h22.6M875.4,351.7h22.6" stroke="#d62728" stroke-width="2.35" opacity="0.8"/>
<path d="M893.0,348.0V376.0" stroke="#d62728" stroke-width="2.35" opacity="0.8"/><path d="M881.7,348.0h22.6M881.7,376.0h22.6" stroke="#d62728" stroke-width="2.35" opacity="0.8"/>
<path d="M896.5,352.5V379.5" stroke="#d62728" stroke-width="2.35" opacity="0.8"/><path d="M885.2,352.5h22.6M885.2,379.5h22.6" stroke="#d62728" stroke-width="2.35" opacity="0.8"/>
<path d="M890.0,341.0V379.0" stroke="#d62728" stroke-width="2.35" opacity="0.8"/><path d="M878.7,341.0h22.6M878.7,379.0h22.6" stroke="#d62728" stroke-width="2.35" opacity="0.8"/>
<path d="M897.0,354.5V399.5" stroke="#d62728" stroke-width="2.35" opacity="0.8"/><path d="M885.7,354.5h22.6M885.7,399.5h22.6" stroke="#d62728" stroke-width="2.35" opacity="0.8"/>
<path d="M894.5,335.0V379.0" stroke="#d62728" stroke-width="2.35" opacity="0.8"/><path d="M883.2,335.0h22.6M883.2,379.0h22.6" stroke="#d62728" stroke-width="2.35" opacity="0.8"/>
<path d="M915.0,338.0V362.0" stroke="#d62728" stroke-width="2.35" opacity="0.8"/><path d="M903.7,338.0h22.6M903.7,362.0h22.6" stroke="#d62728" stroke-width="2.35" opacity="0.8"/>
<path d="M926.5,340.0V362.0" stroke="#d62728" stroke-width="2.35" opacity="0.8"/><path d="M915.2,340.0h22.6M915.2,362.0h22.6" stroke="#d62728" stroke-width="2.35" opacity="0.8"/>
<path d="M919.4,352.5V371.8" stroke="#d62728" stroke-width="2.35" opacity="0.8"/><path d="M908.1,352.5h22.6M908.1,371.8h22.6" stroke="#d62728" stroke-width="2.35" opacity="0.8"/>
<path d="M920.3,336.7V360.9" stroke="#d62728" stroke-width="2.35" opacity="0.8"/><path d="M909.0,336.7h22.6M909.0,360.9h22.6" stroke="#d62728" stroke-width="2.35" opacity="0.8"/>
<path d="M917.6,342.8V368.6" stroke="#d62728" stroke-width="2.35" opacity="0.8"/><path d="M906.3,342.8h22.6M906.3,368.6h22.6" stroke="#d62728" stroke-width="2.35" opacity="0.8"/>
<path d="M917.6,359.7V378.7" stroke="#d62728" stroke-width="2.35" opacity="0.8"/><path d="M906.3,359.7h22.6M906.3,378.7h22.6" stroke="#d62728" stroke-width="2.35" opacity="0.8"/>
<path d="M922.1,328.0V354.9" stroke="#d62728" stroke-width="2.35" opacity="0.8"/><path d="M910.8,328.0h22.6M910.8,354.9h22.6" stroke="#d62728" stroke-width="2.35" opacity="0.8"/>
<path d="M919.3,400.6V421.3" stroke="#d62728" stroke-width="2.35" opacity="0.8"/><path d="M908.0,400.6h22.6M908.0,421.3h22.6" stroke="#d62728" stroke-width="2.35" opacity="0.8"/>
<path d="M923.5,372.2V391.1" stroke="#d62728" stroke-width="2.35" opacity="0.8"/><path d="M912.2,372.2h22.6M912.2,391.1h22.6" stroke="#d62728" stroke-width="2.35" opacity="0.8"/>
<path d="M920.4,387.8V413.1" stroke="#d62728" stroke-width="2.35" opacity="0.8"/><path d="M909.1,387.8h22.6M909.1,413.1h22.6" stroke="#d62728" stroke-width="2.35" opacity="0.8"/>
<path d="M920.1,366.0V386.0" stroke="#d62728" stroke-width="2.35" opacity="0.8"/><path d="M908.8,366.0h22.6M908.8,386.0h22.6" stroke="#d62728" stroke-width="2.35" opacity="0.8"/>
<path d="M923.9,406.1V434.6" stroke="#d62728" stroke-width="2.35" opacity="0.8"/><path d="M912.6,406.1h22.6M912.6,434.6h22.6" stroke="#d62728" stroke-width="2.35" opacity="0.8"/>
<path d="M922.7,368.9V391.3" stroke="#d62728" stroke-width="2.35" opacity="0.8"/><path d="M911.4,368.9h22.6M911.4,391.3h22.6" stroke="#d62728" stroke-width="2.35" opacity="0.8"/>
<path d="M917.1,383.0V413.2" stroke="#d62728" stroke-width="2.35" opacity="0.8"/><path d="M905.8,383.0h22.6M905.8,413.2h22.6" stroke="#d62728" stroke-width="2.35" opacity="0.8"/>
<path d="M920.2,396.1V423.4" stroke="#d62728" stroke-width="2.35" opacity="0.8"/><path d="M908.9,396.1h22.6M908.9,423.4h22.6" stroke="#d62728" stroke-width="2.35" opacity="0.8"/>
<path d="M918.2,393.5V413.5" stroke="#d62728" stroke-width="2.35" opacity="0.8"/><path d="M906.9,393.5h22.6M906.9,413.5h22.6" stroke="#d62728" stroke-width="2.35" opacity="0.8"/>
<path d="M917.4,387.0V408.1" stroke="#d62728" stroke-width="2.35" opacity="0.8"/><path d="M906.1,387.0h22.6M906.1,408.1h22.6" stroke="#d62728" stroke-width="2.35" opacity="0.8"/>
<path d="M920.3,393.1V416.1" stroke="#d62728" stroke-width="2.35" opacity="0.8"/><path d="M909.0,393.1h22.6M909.0,416.1h22.6" stroke="#d62728" stroke-width="2.35" opacity="0.8"/>
<path d="M919.0,414.0V432.5" stroke="#d62728" stroke-width="2.35" opacity="0.8"/><path d="M907.7,414.0h22.6M907.7,432.5h22.6" stroke="#d62728" stroke-width="2.35" opacity="0.8"/>
<path d="M922.3,414.1V435.7" stroke="#d62728" stroke-width="2.35" opacity="0.8"/><path d="M911.0,414.1h22.6M911.0,435.7h22.6" stroke="#d62728" stroke-width="2.35" opacity="0.8"/>
<path d="M922.3,389.1V412.8" stroke="#d62728" stroke-width="2.35" opacity="0.8"/><path d="M911.0,389.1h22.6M911.0,412.8h22.6" stroke="#d62728" stroke-width="2.35" opacity="0.8"/>
<path d="M923.4,392.7V415.0" stroke="#d62728" stroke-width="2.35" opacity="0.8"/><path d="M912.1,392.7h22.6M912.1,415.0h22.6" stroke="#d62728" stroke-width="2.35" opacity="0.8"/>
<path d="M919.0,410.0V462.0" stroke="#d62728" stroke-width="2.35" opacity="0.8"/><path d="M907.7,410.0h22.6M907.7,462.0h22.6" stroke="#d62728" stroke-width="2.35" opacity="0.8"/>
<path d="M921.5,412.0V454.0" stroke="#d62728" stroke-width="2.35" opacity="0.8"/><path d="M910.2,412.0h22.6M910.2,454.0h22.6" stroke="#d62728" stroke-width="2.35" opacity="0.8"/>
<path d="M918.0,421.0V455.0" stroke="#d62728" stroke-width="2.35" opacity="0.8"/><path d="M906.7,421.0h22.6M906.7,455.0h22.6" stroke="#d62728" stroke-width="2.35" opacity="0.8"/>
<path d="M922.0,419.0V443.0" stroke="#d62728" stroke-width="2.35" opacity="0.8"/><path d="M910.7,419.0h22.6M910.7,443.0h22.6" stroke="#d62728" stroke-width="2.35" opacity="0.8"/>
<path d="M920.0,415.0V459.0" stroke="#d62728" stroke-width="2.35" opacity="0.8"/><path d="M908.7,415.0h22.6M908.7,459.0h22.6" stroke="#d62728" stroke-width="2.35" opacity="0.8"/>
<path d="M949.3,404.7V432.1" stroke="#d62728" stroke-width="2.35" opacity="0.8"/><path d="M938.0,404.7h22.6M938.0,432.1h22.6" stroke="#d62728" stroke-width="2.35" opacity="0.8"/>
<path d="M950.3,382.0V428.5" stroke="#d62728" stroke-width="2.35" opacity="0.8"/><path d="M939.0,382.0h22.6M939.0,428.5h22.6" stroke="#d62728" stroke-width="2.35" opacity="0.8"/>
<path d="M950.6,374.7V410.1" stroke="#d62728" stroke-width="2.35" opacity="0.8"/><path d="M939.3,374.7h22.6M939.3,410.1h22.6" stroke="#d62728" stroke-width="2.35" opacity="0.8"/>
<path d="M951.4,371.4V412.1" stroke="#d62728" stroke-width="2.35" opacity="0.8"/><path d="M940.1,371.4h22.6M940.1,412.1h22.6" stroke="#d62728" stroke-width="2.35" opacity="0.8"/>
<path d="M951.2,378.4V404.9" stroke="#d62728" stroke-width="2.35" opacity="0.8"/><path d="M939.9,378.4h22.6M939.9,404.9h22.6" stroke="#d62728" stroke-width="2.35" opacity="0.8"/>
<path d="M962.5,350.0V392.8" stroke="#d62728" stroke-width="2.35" opacity="0.8"/><path d="M951.2,350.0h22.6M951.2,392.8h22.6" stroke="#d62728" stroke-width="2.35" opacity="0.8"/>
<path d="M964.3,349.8V386.0" stroke="#d62728" stroke-width="2.35" opacity="0.8"/><path d="M953.0,349.8h22.6M953.0,386.0h22.6" stroke="#d62728" stroke-width="2.35" opacity="0.8"/>
<path d="M963.2,353.3V386.5" stroke="#d62728" stroke-width="2.35" opacity="0.8"/><path d="M951.9,353.3h22.6M951.9,386.5h22.6" stroke="#d62728" stroke-width="2.35" opacity="0.8"/>
<path d="M963.7,379.9V417.5" stroke="#d62728" stroke-width="2.35" opacity="0.8"/><path d="M952.4,379.9h22.6M952.4,417.5h22.6" stroke="#d62728" stroke-width="2.35" opacity="0.8"/>
<path d="M962.0,403.7V444.0" stroke="#d62728" stroke-width="2.35" opacity="0.8"/><path d="M950.7,403.7h22.6M950.7,444.0h22.6" stroke="#d62728" stroke-width="2.35" opacity="0.8"/>
<path d="M963.8,368.9V410.8" stroke="#d62728" stroke-width="2.35" opacity="0.8"/><path d="M952.5,368.9h22.6M952.5,410.8h22.6" stroke="#d62728" stroke-width="2.35" opacity="0.8"/>
<path d="M952.4,406.0V458.0" stroke="#d62728" stroke-width="2.35" opacity="0.8"/><path d="M941.1,406.0h22.6M941.1,458.0h22.6" stroke="#d62728" stroke-width="2.35" opacity="0.8"/>
<path d="M962.5,348.5V395.5" stroke="#d62728" stroke-width="2.35" opacity="0.8"/><path d="M951.2,348.5h22.6M951.2,395.5h22.6" stroke="#d62728" stroke-width="2.35" opacity="0.8"/>
<path d="M958.0,390.0V450.0" stroke="#d62728" stroke-width="2.35" opacity="0.8"/><path d="M946.7,390.0h22.6M946.7,450.0h22.6" stroke="#d62728" stroke-width="2.35" opacity="0.8"/>
<path d="M698.75,544.7V43.7" stroke="#0000ff" stroke-width="2.35" stroke-dasharray="8.25 3.67" stroke-dashoffset="0.5" opacity="0.8"/>
<path d="M730.9,544.7V43.7" stroke="#0055d5" stroke-width="2.35" stroke-dasharray="8.25 3.67" stroke-dashoffset="0.5" opacity="0.8"/>
<path d="M731.1,544.7V43.7" stroke="#00aaaa" stroke-width="2.35" stroke-dasharray="8.25 3.67" stroke-dashoffset="0.5" opacity="0.8"/>
<path d="M798.05,544.7V43.7" stroke="#00ff80" stroke-width="2.35" stroke-dasharray="8.25 3.67" stroke-dashoffset="0.5" opacity="0.8"/>
<path d="M698.8,337.8L700.9,344.4L707.8,344.4L702.2,348.4L704.3,355.0L698.8,350.9L693.2,355.0L695.3,348.4L689.7,344.4L696.6,344.4Z" fill="#0000ff" stroke="#0000ff" stroke-width="1.4" stroke-linejoin="bevel" opacity="0.8"/>
<path d="M698.8,340.8V353.8" stroke="#0000ff" stroke-width="2.35" opacity="0.8"/><path d="M687.5,340.8h22.6M687.5,353.8h22.6" stroke="#0000ff" stroke-width="2.35" opacity="0.8"/>
<path d="M730.9,286.9L733.0,293.5L739.9,293.5L734.4,297.5L736.5,304.1L730.9,300.0L725.3,304.1L727.4,297.5L721.9,293.5L728.8,293.5Z" fill="#0055d5" stroke="#0055d5" stroke-width="1.4" stroke-linejoin="bevel" opacity="0.8"/>
<path d="M730.9,291.5V301.3" stroke="#0055d5" stroke-width="2.35" opacity="0.8"/><path d="M719.6,291.5h22.6M719.6,301.3h22.6" stroke="#0055d5" stroke-width="2.35" opacity="0.8"/>
<path d="M731.1,288.1L733.2,294.7L740.1,294.7L734.6,298.8L736.7,305.3L731.1,301.3L725.5,305.3L727.6,298.8L722.1,294.7L729.0,294.7Z" fill="#00aaaa" stroke="#00aaaa" stroke-width="1.4" stroke-linejoin="bevel" opacity="0.8"/>
<path d="M731.1,291.5V303.8" stroke="#00aaaa" stroke-width="2.35" opacity="0.8"/><path d="M719.8,291.5h22.6M719.8,303.8h22.6" stroke="#00aaaa" stroke-width="2.35" opacity="0.8"/>
<path d="M798.0,291.8L800.2,298.3L807.1,298.3L801.5,302.4L803.6,308.9L798.0,304.9L792.5,308.9L794.6,302.4L789.0,298.3L795.9,298.3Z" fill="#00ff80" stroke="#00ff80" stroke-width="1.4" stroke-linejoin="bevel" opacity="0.8"/>
<path d="M798.0,295.1V307.4" stroke="#00ff80" stroke-width="2.35" opacity="0.8"/><path d="M786.8,295.1h22.6M786.8,307.4h22.6" stroke="#00ff80" stroke-width="2.35" opacity="0.8"/>
</g>
<path d="M159.06,544.7v-4.4M159.06,43.7v4.4" stroke="#000" stroke-width="1.15"/>
<path d="M204.03,544.7v-4.4M204.03,43.7v4.4" stroke="#000" stroke-width="1.15"/>
<path d="M249.00,544.7v-8.0M249.00,43.7v8.0" stroke="#000" stroke-width="1.55"/>
<text x="249.0" y="578.0" font-size="34.1" text-anchor="middle" stroke="#000" stroke-width="0.25">52000</text>
<path d="M293.97,544.7v-4.4M293.97,43.7v4.4" stroke="#000" stroke-width="1.15"/>
<path d="M338.94,544.7v-4.4M338.94,43.7v4.4" stroke="#000" stroke-width="1.15"/>
<path d="M383.91,544.7v-4.4M383.91,43.7v4.4" stroke="#000" stroke-width="1.15"/>
<path d="M428.87,544.7v-8.0M428.87,43.7v8.0" stroke="#000" stroke-width="1.55"/>
<text x="428.9" y="578.0" font-size="34.1" text-anchor="middle" stroke="#000" stroke-width="0.25">54000</text>
<path d="M473.84,544.7v-4.4M473.84,43.7v4.4" stroke="#000" stroke-width="1.15"/>
<path d="M518.81,544.7v-4.4M518.81,43.7v4.4" stroke="#000" stroke-width="1.15"/>
<path d="M563.78,544.7v-4.4M563.78,43.7v4.4" stroke="#000" stroke-width="1.15"/>
<path d="M608.75,544.7v-8.0M608.75,43.7v8.0" stroke="#000" stroke-width="1.55"/>
<text x="608.7" y="578.0" font-size="34.1" text-anchor="middle" stroke="#000" stroke-width="0.25">56000</text>
<path d="M653.72,544.7v-4.4M653.72,43.7v4.4" stroke="#000" stroke-width="1.15"/>
<path d="M698.68,544.7v-4.4M698.68,43.7v4.4" stroke="#000" stroke-width="1.15"/>
<path d="M743.65,544.7v-4.4M743.65,43.7v4.4" stroke="#000" stroke-width="1.15"/>
<path d="M788.62,544.7v-8.0M788.62,43.7v8.0" stroke="#000" stroke-width="1.55"/>
<text x="788.6" y="578.0" font-size="34.1" text-anchor="middle" stroke="#000" stroke-width="0.25">58000</text>
<path d="M833.59,544.7v-4.4M833.59,43.7v4.4" stroke="#000" stroke-width="1.15"/>
<path d="M878.56,544.7v-4.4M878.56,43.7v4.4" stroke="#000" stroke-width="1.15"/>
<path d="M923.53,544.7v-4.4M923.53,43.7v4.4" stroke="#000" stroke-width="1.15"/>
<path d="M968.50,544.7v-8.0M968.50,43.7v8.0" stroke="#000" stroke-width="1.55"/>
<text x="968.5" y="578.0" font-size="34.1" text-anchor="middle" stroke="#000" stroke-width="0.25">60000</text>
<path d="M131.3,51.30h8.0M1002.45,51.30h-8.0" stroke="#000" stroke-width="1.55"/>
<text x="123.4" y="63.8" font-size="34.1" text-anchor="end" stroke="#000" stroke-width="0.25">18.5</text>
<path d="M131.3,68.33h4.4M1002.45,68.33h-4.4" stroke="#000" stroke-width="1.15"/>
<path d="M131.3,85.36h4.4M1002.45,85.36h-4.4" stroke="#000" stroke-width="1.15"/>
<path d="M131.3,102.40h4.4M1002.45,102.40h-4.4" stroke="#000" stroke-width="1.15"/>
<path d="M131.3,119.43h4.4M1002.45,119.43h-4.4" stroke="#000" stroke-width="1.15"/>
<path d="M131.3,136.46h8.0M1002.45,136.46h-8.0" stroke="#000" stroke-width="1.55"/>
<text x="123.4" y="149.0" font-size="34.1" text-anchor="end" stroke="#000" stroke-width="0.25">19.0</text>
<path d="M131.3,153.49h4.4M1002.45,153.49h-4.4" stroke="#000" stroke-width="1.15"/>
<path d="M131.3,170.52h4.4M1002.45,170.52h-4.4" stroke="#000" stroke-width="1.15"/>
<path d="M131.3,187.56h4.4M1002.45,187.56h-4.4" stroke="#000" stroke-width="1.15"/>
<path d="M131.3,204.59h4.4M1002.45,204.59h-4.4" stroke="#000" stroke-width="1.15"/>
<path d="M131.3,221.62h8.0M1002.45,221.62h-8.0" stroke="#000" stroke-width="1.55"/>
<text x="123.4" y="234.1" font-size="34.1" text-anchor="end" stroke="#000" stroke-width="0.25">19.5</text>
<path d="M131.3,238.65h4.4M1002.45,238.65h-4.4" stroke="#000" stroke-width="1.15"/>
<path d="M131.3,255.68h4.4M1002.45,255.68h-4.4" stroke="#000" stroke-width="1.15"/>
<path d="M131.3,272.72h4.4M1002.45,272.72h-4.4" stroke="#000" stroke-width="1.15"/>
<path d="M131.3,289.75h4.4M1002.45,289.75h-4.4" stroke="#000" stroke-width="1.15"/>
<path d="M131.3,306.78h8.0M1002.45,306.78h-8.0" stroke="#000" stroke-width="1.55"/>
<text x="123.4" y="319.3" font-size="34.1" text-anchor="end" stroke="#000" stroke-width="0.25">20.0</text>
<path d="M131.3,323.81h4.4M1002.45,323.81h-4.4" stroke="#000" stroke-width="1.15"/>
<path d="M131.3,340.84h4.4M1002.45,340.84h-4.4" stroke="#000" stroke-width="1.15"/>
<path d="M131.3,357.88h4.4M1002.45,357.88h-4.4" stroke="#000" stroke-width="1.15"/>
<path d="M131.3,374.91h4.4M1002.45,374.91h-4.4" stroke="#000" stroke-width="1.15"/>
<path d="M131.3,391.94h8.0M1002.45,391.94h-8.0" stroke="#000" stroke-width="1.55"/>
<text x="123.4" y="404.4" font-size="34.1" text-anchor="end" stroke="#000" stroke-width="0.25">20.5</text>
<path d="M131.3,408.97h4.4M1002.45,408.97h-4.4" stroke="#000" stroke-width="1.15"/>
<path d="M131.3,426.00h4.4M1002.45,426.00h-4.4" stroke="#000" stroke-width="1.15"/>
<path d="M131.3,443.04h4.4M1002.45,443.04h-4.4" stroke="#000" stroke-width="1.15"/>
<path d="M131.3,460.07h4.4M1002.45,460.07h-4.4" stroke="#000" stroke-width="1.15"/>
<path d="M131.3,477.10h8.0M1002.45,477.10h-8.0" stroke="#000" stroke-width="1.55"/>
<text x="123.4" y="489.6" font-size="34.1" text-anchor="end" stroke="#000" stroke-width="0.25">21.0</text>
<path d="M131.3,494.13h4.4M1002.45,494.13h-4.4" stroke="#000" stroke-width="1.15"/>
<path d="M131.3,511.16h4.4M1002.45,511.16h-4.4" stroke="#000" stroke-width="1.15"/>
<path d="M131.3,528.20h4.4M1002.45,528.20h-4.4" stroke="#000" stroke-width="1.15"/>
<rect x="131.3" y="43.7" width="871.1500000000001" height="501.00000000000006" fill="none" stroke="#000" stroke-width="1.55"/>
<text x="566.7" y="625.3" font-size="40.9" text-anchor="middle">MJD</text>
<text transform="translate(31,293.9) rotate(-90)" font-size="40.7" text-anchor="middle">g [mag]</text>
<text x="566.6" y="30.1" font-size="40.5" text-anchor="middle">SDSS J011431.43-001112.5</text>
<circle cx="173.7" cy="72.8" r="10.3" fill="#1f77b4" opacity="0.8"/>
<path d="M173.7,61.5V84.1" stroke="#1f77b4" stroke-width="2.35" opacity="0.8"/><path d="M162.4,61.5h22.6M162.4,84.1h22.6" stroke="#1f77b4" stroke-width="2.35" opacity="0.8"/>
<text x="214.5" y="81.1" font-size="22.3">SDSS_g</text>
<path d="M173.7,95.2L162.5,117.6H184.9Z" fill="#ff7f0e" opacity="0.8"/>
<path d="M173.7,95.1V117.7" stroke="#ff7f0e" stroke-width="2.35" opacity="0.8"/><path d="M162.4,95.1h22.6M162.4,117.7h22.6" stroke="#ff7f0e" stroke-width="2.35" opacity="0.8"/>
<text x="214.5" y="114.7" font-size="22.3">PS1_g</text>
<rect x="163.2" y="129.7" width="20.9" height="20.9" fill="#2ca02c" opacity="0.8"/>
<path d="M173.7,128.8V151.4" stroke="#2ca02c" stroke-width="2.35" opacity="0.8"/><path d="M162.4,128.8h22.6M162.4,151.4h22.6" stroke="#2ca02c" stroke-width="2.35" opacity="0.8"/>
<text x="214.5" y="148.4" font-size="22.3">PTF_g</text>
<path d="M173.7,158.7L182.8,173.6L173.7,188.5L164.6,173.6Z" fill="#d62728" opacity="0.8"/>
<path d="M173.7,162.3V184.9" stroke="#d62728" stroke-width="2.35" opacity="0.8"/><path d="M162.4,162.3h22.6M162.4,184.9h22.6" stroke="#d62728" stroke-width="2.35" opacity="0.8"/>
<text x="214.5" y="181.9" font-size="22.3">ZTF_g</text>
</svg></body></html>
